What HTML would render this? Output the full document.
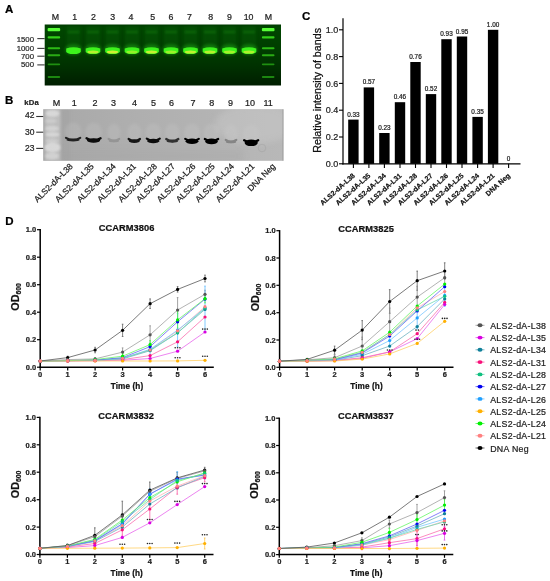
<!DOCTYPE html>
<html><head><meta charset="utf-8"><title>Figure</title>
<style>
html,body{margin:0;padding:0;background:#fff;width:550px;height:581px;overflow:hidden}
svg{display:block;filter:blur(0.3px)}
text{font-family:"Liberation Sans", Arial, sans-serif}
</style></head>
<body><svg width="550" height="581" viewBox="0 0 550 581">
<rect width="550" height="581" fill="#fff"/>
<defs>
<filter id="bl1" x="-50%" y="-50%" width="200%" height="200%"><feGaussianBlur stdDeviation="0.9"/></filter>
<filter id="bl2" x="-50%" y="-50%" width="200%" height="200%"><feGaussianBlur stdDeviation="1.6"/></filter>
<filter id="bl3" x="-50%" y="-50%" width="200%" height="200%"><feGaussianBlur stdDeviation="3"/></filter>
<filter id="bl07" x="-50%" y="-50%" width="200%" height="200%"><feGaussianBlur stdDeviation="0.75"/></filter>
<filter id="bl05" x="-50%" y="-50%" width="200%" height="200%"><feGaussianBlur stdDeviation="0.6"/></filter>
<linearGradient id="gA" x1="0" y1="0" x2="0" y2="1"><stop offset="0" stop-color="#003a00"/><stop offset="0.05" stop-color="#004600"/><stop offset="0.45" stop-color="#003c00"/><stop offset="0.7" stop-color="#003000"/><stop offset="1" stop-color="#001e00"/></linearGradient>
<linearGradient id="gB" x1="0" y1="0" x2="1" y2="0"><stop offset="0" stop-color="#a8a8a8"/><stop offset="0.4" stop-color="#afafaf"/><stop offset="1" stop-color="#b8b8b8"/></linearGradient>
<clipPath id="cA"><rect x="44.7" y="24.5" width="236.3" height="61.0"/></clipPath>
</defs>
<rect x="44.7" y="24.5" width="236.3" height="61.0" fill="url(#gA)"/>
<g clip-path="url(#cA)">
<rect x="66.5" y="26" width="14" height="22" fill="#0a6a0a" opacity="0.25" filter="url(#bl2)"/>
<rect x="67.5" y="30.5" width="12" height="3" fill="#1a8a10" opacity="0.35" filter="url(#bl1)"/>
<rect x="86.0" y="26" width="14" height="22" fill="#0a6a0a" opacity="0.25" filter="url(#bl2)"/>
<rect x="87.0" y="30.5" width="12" height="3" fill="#1a8a10" opacity="0.35" filter="url(#bl1)"/>
<rect x="105.5" y="26" width="14" height="22" fill="#0a6a0a" opacity="0.25" filter="url(#bl2)"/>
<rect x="106.5" y="30.5" width="12" height="3" fill="#1a8a10" opacity="0.35" filter="url(#bl1)"/>
<rect x="125.0" y="26" width="14" height="22" fill="#0a6a0a" opacity="0.25" filter="url(#bl2)"/>
<rect x="126.0" y="30.5" width="12" height="3" fill="#1a8a10" opacity="0.35" filter="url(#bl1)"/>
<rect x="144.5" y="26" width="14" height="22" fill="#0a6a0a" opacity="0.25" filter="url(#bl2)"/>
<rect x="145.5" y="30.5" width="12" height="3" fill="#1a8a10" opacity="0.35" filter="url(#bl1)"/>
<rect x="164.0" y="26" width="14" height="22" fill="#0a6a0a" opacity="0.25" filter="url(#bl2)"/>
<rect x="165.0" y="30.5" width="12" height="3" fill="#1a8a10" opacity="0.35" filter="url(#bl1)"/>
<rect x="183.5" y="26" width="14" height="22" fill="#0a6a0a" opacity="0.25" filter="url(#bl2)"/>
<rect x="184.5" y="30.5" width="12" height="3" fill="#1a8a10" opacity="0.35" filter="url(#bl1)"/>
<rect x="203.0" y="26" width="14" height="22" fill="#0a6a0a" opacity="0.25" filter="url(#bl2)"/>
<rect x="204.0" y="30.5" width="12" height="3" fill="#1a8a10" opacity="0.35" filter="url(#bl1)"/>
<rect x="222.5" y="26" width="14" height="22" fill="#0a6a0a" opacity="0.25" filter="url(#bl2)"/>
<rect x="223.5" y="30.5" width="12" height="3" fill="#1a8a10" opacity="0.35" filter="url(#bl1)"/>
<rect x="242.0" y="26" width="14" height="22" fill="#0a6a0a" opacity="0.25" filter="url(#bl2)"/>
<rect x="243.0" y="30.5" width="12" height="3" fill="#1a8a10" opacity="0.35" filter="url(#bl1)"/>
<rect x="47.6" y="27.9" width="12.6" height="3.4" rx="1" fill="#58ff38" opacity="1.0" filter="url(#bl05)"/>
<rect x="47.6" y="36.3" width="12.6" height="2.2" rx="1" fill="#36d81c" opacity="0.95" filter="url(#bl05)"/>
<rect x="47.6" y="47.3" width="12.6" height="2.0" rx="1" fill="#30c818" opacity="0.9" filter="url(#bl05)"/>
<rect x="47.6" y="54.3" width="12.6" height="2.0" rx="1" fill="#30c018" opacity="0.85" filter="url(#bl05)"/>
<rect x="47.6" y="63.4" width="12.6" height="1.8" rx="1" fill="#28a814" opacity="0.8" filter="url(#bl05)"/>
<rect x="47.6" y="76.1" width="12.6" height="1.8" rx="1" fill="#28a814" opacity="0.75" filter="url(#bl05)"/>
<rect x="261.9" y="27.9" width="12.6" height="3.4" rx="1" fill="#58ff38" opacity="1.0" filter="url(#bl05)"/>
<rect x="261.9" y="36.3" width="12.6" height="2.2" rx="1" fill="#36d81c" opacity="0.95" filter="url(#bl05)"/>
<rect x="261.9" y="47.3" width="12.6" height="2.0" rx="1" fill="#30c818" opacity="0.9" filter="url(#bl05)"/>
<rect x="261.9" y="54.3" width="12.6" height="2.0" rx="1" fill="#30c018" opacity="0.85" filter="url(#bl05)"/>
<rect x="261.9" y="63.4" width="12.6" height="1.8" rx="1" fill="#28a814" opacity="0.8" filter="url(#bl05)"/>
<rect x="261.9" y="76.1" width="12.6" height="1.8" rx="1" fill="#28a814" opacity="0.75" filter="url(#bl05)"/>
<ellipse cx="73.5" cy="49.5" rx="8.5" ry="5.5" fill="#22b012" opacity="0.45" filter="url(#bl2)"/>
<path d="M66.2,48.6 Q73.5,46.0 80.8,48.6 L80.8,51.2 Q80.6,54.0 73.5,54.0 Q66.4,54.0 66.2,51.2 Z" fill="#3cf41c" filter="url(#bl07)"/>
<ellipse cx="93.0" cy="49.5" rx="8.5" ry="5.5" fill="#22b012" opacity="0.45" filter="url(#bl2)"/>
<path d="M85.7,48.6 Q93.0,46.0 100.3,48.6 L100.3,51.2 Q100.1,54.0 93.0,54.0 Q85.9,54.0 85.7,51.2 Z" fill="#3cf41c" filter="url(#bl07)"/>
<ellipse cx="93.0" cy="51.9" rx="5.6" ry="1.5" fill="#e8f038" opacity="0.7" filter="url(#bl07)"/>
<ellipse cx="112.5" cy="49.5" rx="8.5" ry="5.5" fill="#22b012" opacity="0.45" filter="url(#bl2)"/>
<path d="M105.2,48.6 Q112.5,46.0 119.8,48.6 L119.8,51.2 Q119.6,54.0 112.5,54.0 Q105.4,54.0 105.2,51.2 Z" fill="#3cf41c" filter="url(#bl07)"/>
<ellipse cx="112.5" cy="51.9" rx="5.6" ry="1.5" fill="#e8f038" opacity="0.85" filter="url(#bl07)"/>
<ellipse cx="132.0" cy="49.5" rx="8.5" ry="5.5" fill="#22b012" opacity="0.45" filter="url(#bl2)"/>
<path d="M124.7,48.6 Q132.0,46.0 139.3,48.6 L139.3,51.2 Q139.1,54.0 132.0,54.0 Q124.9,54.0 124.7,51.2 Z" fill="#3cf41c" filter="url(#bl07)"/>
<ellipse cx="132.0" cy="51.9" rx="5.6" ry="1.5" fill="#e8f038" opacity="0.5" filter="url(#bl07)"/>
<ellipse cx="151.5" cy="49.5" rx="8.5" ry="5.5" fill="#22b012" opacity="0.45" filter="url(#bl2)"/>
<path d="M144.2,48.6 Q151.5,46.0 158.8,48.6 L158.8,51.2 Q158.6,54.0 151.5,54.0 Q144.4,54.0 144.2,51.2 Z" fill="#3cf41c" filter="url(#bl07)"/>
<ellipse cx="151.5" cy="51.9" rx="5.6" ry="1.5" fill="#e8f038" opacity="0.8" filter="url(#bl07)"/>
<ellipse cx="171.0" cy="49.5" rx="8.5" ry="5.5" fill="#22b012" opacity="0.45" filter="url(#bl2)"/>
<path d="M163.7,48.6 Q171.0,46.0 178.3,48.6 L178.3,51.2 Q178.1,54.0 171.0,54.0 Q163.9,54.0 163.7,51.2 Z" fill="#3cf41c" filter="url(#bl07)"/>
<ellipse cx="171.0" cy="51.9" rx="5.6" ry="1.5" fill="#e8f038" opacity="0.55" filter="url(#bl07)"/>
<ellipse cx="190.5" cy="49.5" rx="8.5" ry="5.5" fill="#22b012" opacity="0.45" filter="url(#bl2)"/>
<path d="M183.2,48.6 Q190.5,46.0 197.8,48.6 L197.8,51.2 Q197.6,54.0 190.5,54.0 Q183.4,54.0 183.2,51.2 Z" fill="#3cf41c" filter="url(#bl07)"/>
<ellipse cx="190.5" cy="51.9" rx="5.6" ry="1.5" fill="#e8f038" opacity="0.75" filter="url(#bl07)"/>
<ellipse cx="210.0" cy="49.5" rx="8.5" ry="5.5" fill="#22b012" opacity="0.45" filter="url(#bl2)"/>
<path d="M202.7,48.6 Q210.0,46.0 217.3,48.6 L217.3,51.2 Q217.1,54.0 210.0,54.0 Q202.9,54.0 202.7,51.2 Z" fill="#3cf41c" filter="url(#bl07)"/>
<ellipse cx="210.0" cy="51.9" rx="5.6" ry="1.5" fill="#e8f038" opacity="0.7" filter="url(#bl07)"/>
<ellipse cx="229.5" cy="49.5" rx="8.5" ry="5.5" fill="#22b012" opacity="0.45" filter="url(#bl2)"/>
<path d="M222.2,48.6 Q229.5,46.0 236.8,48.6 L236.8,51.2 Q236.6,54.0 229.5,54.0 Q222.4,54.0 222.2,51.2 Z" fill="#3cf41c" filter="url(#bl07)"/>
<ellipse cx="229.5" cy="51.9" rx="5.6" ry="1.5" fill="#e8f038" opacity="0.6" filter="url(#bl07)"/>
<ellipse cx="249.0" cy="49.5" rx="8.5" ry="5.5" fill="#22b012" opacity="0.45" filter="url(#bl2)"/>
<path d="M241.7,48.6 Q249.0,46.0 256.3,48.6 L256.3,51.2 Q256.1,54.0 249.0,54.0 Q241.9,54.0 241.7,51.2 Z" fill="#3cf41c" filter="url(#bl07)"/>
<ellipse cx="249.0" cy="51.9" rx="5.6" ry="1.5" fill="#e8f038" opacity="0.65" filter="url(#bl07)"/>
</g>
<text x="5.00" y="12.60" font-size="11.5" font-weight="bold" text-anchor="start" fill="#000" stroke="#000" stroke-width="0.22" >A</text>
<text x="55.30" y="20.00" font-size="8.8" text-anchor="middle" fill="#222" stroke="#222" stroke-width="0.22" >M</text>
<text x="74.60" y="20.00" font-size="8.8" text-anchor="middle" fill="#222" stroke="#222" stroke-width="0.22" >1</text>
<text x="93.40" y="20.00" font-size="8.8" text-anchor="middle" fill="#222" stroke="#222" stroke-width="0.22" >2</text>
<text x="112.60" y="20.00" font-size="8.8" text-anchor="middle" fill="#222" stroke="#222" stroke-width="0.22" >3</text>
<text x="131.00" y="20.00" font-size="8.8" text-anchor="middle" fill="#222" stroke="#222" stroke-width="0.22" >4</text>
<text x="152.60" y="20.00" font-size="8.8" text-anchor="middle" fill="#222" stroke="#222" stroke-width="0.22" >5</text>
<text x="171.00" y="20.00" font-size="8.8" text-anchor="middle" fill="#222" stroke="#222" stroke-width="0.22" >6</text>
<text x="189.50" y="20.00" font-size="8.8" text-anchor="middle" fill="#222" stroke="#222" stroke-width="0.22" >7</text>
<text x="210.60" y="20.00" font-size="8.8" text-anchor="middle" fill="#222" stroke="#222" stroke-width="0.22" >8</text>
<text x="229.50" y="20.00" font-size="8.8" text-anchor="middle" fill="#222" stroke="#222" stroke-width="0.22" >9</text>
<text x="248.60" y="20.00" font-size="8.8" text-anchor="middle" fill="#222" stroke="#222" stroke-width="0.22" >10</text>
<text x="268.40" y="20.00" font-size="8.8" text-anchor="middle" fill="#222" stroke="#222" stroke-width="0.22" >M</text>
<text x="34.00" y="41.60" font-size="7.8" text-anchor="end" fill="#2a2a2a" stroke="#2a2a2a" stroke-width="0.22" >1500</text>
<line x1="37.3" y1="38.6" x2="44.7" y2="38.6" stroke="#3a3a3a" stroke-width="1.1"/>
<text x="34.00" y="51.40" font-size="7.8" text-anchor="end" fill="#2a2a2a" stroke="#2a2a2a" stroke-width="0.22" >1000</text>
<line x1="37.3" y1="48.4" x2="44.7" y2="48.4" stroke="#3a3a3a" stroke-width="1.1"/>
<text x="34.00" y="58.70" font-size="7.8" text-anchor="end" fill="#2a2a2a" stroke="#2a2a2a" stroke-width="0.22" >700</text>
<line x1="37.3" y1="56.2" x2="44.7" y2="56.2" stroke="#3a3a3a" stroke-width="1.1"/>
<text x="34.00" y="67.30" font-size="7.8" text-anchor="end" fill="#2a2a2a" stroke="#2a2a2a" stroke-width="0.22" >500</text>
<line x1="37.3" y1="64.9" x2="44.7" y2="64.9" stroke="#3a3a3a" stroke-width="1.1"/>
<rect x="43.2" y="109.2" width="240.4" height="51.6" fill="url(#gB)"/>
<clipPath id="cB"><rect x="43.2" y="109.2" width="240.4" height="51.6"/></clipPath>
<g clip-path="url(#cB)">
<ellipse cx="255" cy="124" rx="40" ry="20" fill="#cccccc" opacity="0.4" filter="url(#bl3)"/>
<rect x="43" y="150" width="200" height="12" fill="#a0a0a0" opacity="0.25" filter="url(#bl3)"/>
<rect x="62" y="109" width="8" height="52" fill="#9c9c9c" opacity="0.25" filter="url(#bl2)"/>
<rect x="45" y="109" width="15.5" height="52" fill="#d2d2d2" opacity="0.5" filter="url(#bl1)"/>
<ellipse cx="52.5" cy="113.5" rx="7" ry="3.5" fill="#e2e2e2" opacity="0.72" filter="url(#bl1)"/>
<ellipse cx="51" cy="121" rx="6" ry="2.5" fill="#e2e2e2" opacity="0.40" filter="url(#bl1)"/>
<ellipse cx="52" cy="128.5" rx="7" ry="3.0" fill="#e2e2e2" opacity="0.56" filter="url(#bl1)"/>
<ellipse cx="52.5" cy="134.5" rx="7" ry="2.5" fill="#e2e2e2" opacity="0.68" filter="url(#bl1)"/>
<ellipse cx="52" cy="141" rx="6.5" ry="2.5" fill="#e2e2e2" opacity="0.40" filter="url(#bl1)"/>
<ellipse cx="52.5" cy="147.5" rx="8" ry="5" fill="#e2e2e2" opacity="0.72" filter="url(#bl1)"/>
<ellipse cx="52" cy="156" rx="7" ry="3.5" fill="#e2e2e2" opacity="0.56" filter="url(#bl1)"/>
<ellipse cx="73.1" cy="131.5" rx="8.3" ry="9" fill="#d0d0d0" opacity="0.2" filter="url(#bl2)"/>
<g filter="url(#bl07)" fill="#222222" stroke="#222222">
<path d="M66.0,137.9 Q73.1,142.1 80.2,137.9" fill="none" stroke-width="2.2" stroke-linecap="round"/>
<ellipse cx="73.1" cy="139.9" rx="6.6" ry="1.5" stroke="none"/>
</g>
<ellipse cx="93.6" cy="131.8" rx="8.2" ry="9" fill="#d0d0d0" opacity="0.2" filter="url(#bl2)"/>
<g filter="url(#bl07)" fill="#080808" stroke="#080808">
<path d="M86.5,138.2 Q93.6,142.4 100.6,138.2" fill="none" stroke-width="2.2" stroke-linecap="round"/>
<ellipse cx="93.6" cy="140.5" rx="6.6" ry="2.2" stroke="none"/>
</g>
<ellipse cx="113.9" cy="132.5" rx="6.5" ry="9" fill="#d0d0d0" opacity="0.2" filter="url(#bl2)"/>
<g filter="url(#bl07)" fill="#959595" stroke="#959595">
<path d="M108.6,138.9 Q113.9,143.1 119.2,138.9" fill="none" stroke-width="2.2" stroke-linecap="round"/>
<ellipse cx="113.9" cy="140.9" rx="5.2" ry="1.3" stroke="none"/>
</g>
<ellipse cx="134.3" cy="132.6" rx="6.9" ry="9" fill="#d0d0d0" opacity="0.2" filter="url(#bl2)"/>
<g filter="url(#bl07)" fill="#151515" stroke="#151515">
<path d="M128.6,139.0 Q134.3,143.2 140.0,139.0" fill="none" stroke-width="2.2" stroke-linecap="round"/>
<ellipse cx="134.3" cy="141.1" rx="5.5" ry="1.8" stroke="none"/>
</g>
<ellipse cx="153.3" cy="132.3" rx="7.7" ry="9" fill="#d0d0d0" opacity="0.2" filter="url(#bl2)"/>
<g filter="url(#bl07)" fill="#0a0a0a" stroke="#0a0a0a">
<path d="M146.8,138.7 Q153.3,142.9 159.8,138.7" fill="none" stroke-width="2.2" stroke-linecap="round"/>
<ellipse cx="153.3" cy="141.0" rx="6.2" ry="2.2" stroke="none"/>
</g>
<ellipse cx="172.3" cy="132.6" rx="7.3" ry="9" fill="#d0d0d0" opacity="0.2" filter="url(#bl2)"/>
<g filter="url(#bl07)" fill="#303030" stroke="#303030">
<path d="M166.2,139.0 Q172.3,143.2 178.4,139.0" fill="none" stroke-width="2.2" stroke-linecap="round"/>
<ellipse cx="172.3" cy="141.1" rx="5.8" ry="1.7" stroke="none"/>
</g>
<ellipse cx="192.0" cy="132.5" rx="8.0" ry="9" fill="#d0d0d0" opacity="0.2" filter="url(#bl2)"/>
<g filter="url(#bl07)" fill="#050505" stroke="#050505">
<path d="M185.2,138.9 Q192.0,143.1 198.8,138.9" fill="none" stroke-width="2.2" stroke-linecap="round"/>
<ellipse cx="192.0" cy="141.3" rx="6.4" ry="2.7" stroke="none"/>
</g>
<ellipse cx="211.5" cy="132.6" rx="7.9" ry="9" fill="#d0d0d0" opacity="0.2" filter="url(#bl2)"/>
<g filter="url(#bl07)" fill="#050505" stroke="#050505">
<path d="M204.8,139.0 Q211.5,143.2 218.2,139.0" fill="none" stroke-width="2.2" stroke-linecap="round"/>
<ellipse cx="211.5" cy="141.4" rx="6.3" ry="2.8" stroke="none"/>
</g>
<ellipse cx="231.0" cy="133.5" rx="6.5" ry="9" fill="#d0d0d0" opacity="0.2" filter="url(#bl2)"/>
<g filter="url(#bl07)" fill="#858585" stroke="#858585">
<path d="M225.7,139.9 Q231.0,144.1 236.3,139.9" fill="none" stroke-width="2.2" stroke-linecap="round"/>
<ellipse cx="231.0" cy="141.9" rx="5.2" ry="1.4" stroke="none"/>
</g>
<ellipse cx="251.2" cy="133.8" rx="8.2" ry="9" fill="#d0d0d0" opacity="0.2" filter="url(#bl2)"/>
<g filter="url(#bl07)" fill="#000000" stroke="#000000">
<path d="M244.1,140.2 Q251.2,144.4 258.2,140.2" fill="none" stroke-width="2.2" stroke-linecap="round"/>
<ellipse cx="251.2" cy="142.8" rx="6.6" ry="3.3" stroke="none"/>
</g>
<circle cx="262" cy="148" r="3.8" fill="none" stroke="#9a9a9a" stroke-width="0.8" opacity="0.5" filter="url(#bl05)"/>
<line x1="283" y1="109" x2="283" y2="161" stroke="#8a8a8a" stroke-width="1.2" opacity="0.5"/>
</g>
<text x="5.00" y="103.80" font-size="11.5" font-weight="bold" text-anchor="start" fill="#000" stroke="#000" stroke-width="0.22" >B</text>
<text x="24.20" y="104.60" font-size="7.7" font-weight="bold" text-anchor="start" fill="#222" stroke="#222" stroke-width="0.22" letter-spacing="0.2">kDa</text>
<text x="56.40" y="106.00" font-size="9.0" text-anchor="middle" fill="#222" stroke="#222" stroke-width="0.22" >M</text>
<text x="74.20" y="106.00" font-size="9.0" text-anchor="middle" fill="#222" stroke="#222" stroke-width="0.22" >1</text>
<text x="95.00" y="106.00" font-size="9.0" text-anchor="middle" fill="#222" stroke="#222" stroke-width="0.22" >2</text>
<text x="113.60" y="106.00" font-size="9.0" text-anchor="middle" fill="#222" stroke="#222" stroke-width="0.22" >3</text>
<text x="134.40" y="106.00" font-size="9.0" text-anchor="middle" fill="#222" stroke="#222" stroke-width="0.22" >4</text>
<text x="153.60" y="106.00" font-size="9.0" text-anchor="middle" fill="#222" stroke="#222" stroke-width="0.22" >5</text>
<text x="171.60" y="106.00" font-size="9.0" text-anchor="middle" fill="#222" stroke="#222" stroke-width="0.22" >6</text>
<text x="193.00" y="106.00" font-size="9.0" text-anchor="middle" fill="#222" stroke="#222" stroke-width="0.22" >7</text>
<text x="211.80" y="106.00" font-size="9.0" text-anchor="middle" fill="#222" stroke="#222" stroke-width="0.22" >8</text>
<text x="230.40" y="106.00" font-size="9.0" text-anchor="middle" fill="#222" stroke="#222" stroke-width="0.22" >9</text>
<text x="250.00" y="106.00" font-size="9.0" text-anchor="middle" fill="#222" stroke="#222" stroke-width="0.22" >10</text>
<text x="268.20" y="106.00" font-size="9.0" text-anchor="middle" fill="#222" stroke="#222" stroke-width="0.22" >11</text>
<text x="34.40" y="118.00" font-size="8.5" text-anchor="end" fill="#222" stroke="#222" stroke-width="0.22" >42</text>
<line x1="36.2" y1="116.5" x2="43.2" y2="116.5" stroke="#333" stroke-width="1.1"/>
<text x="34.40" y="135.40" font-size="8.5" text-anchor="end" fill="#222" stroke="#222" stroke-width="0.22" >30</text>
<line x1="36.2" y1="132.2" x2="43.2" y2="132.2" stroke="#333" stroke-width="1.1"/>
<text x="34.40" y="151.10" font-size="8.5" text-anchor="end" fill="#222" stroke="#222" stroke-width="0.22" >23</text>
<line x1="36.2" y1="148.4" x2="43.2" y2="148.4" stroke="#333" stroke-width="1.1"/>
<text x="73.3" y="166.9" font-size="8.45" text-anchor="end" fill="#1a1a1a" stroke="#1a1a1a" stroke-width="0.22" transform="rotate(-45 73.3 166.9)">ALS2-dA-L38</text>
<text x="94.4" y="166.9" font-size="8.45" text-anchor="end" fill="#1a1a1a" stroke="#1a1a1a" stroke-width="0.22" transform="rotate(-45 94.4 166.9)">ALS2-dA-L35</text>
<text x="116.3" y="166.9" font-size="8.45" text-anchor="end" fill="#1a1a1a" stroke="#1a1a1a" stroke-width="0.22" transform="rotate(-45 116.3 166.9)">ALS2-dA-L34</text>
<text x="136.7" y="166.9" font-size="8.45" text-anchor="end" fill="#1a1a1a" stroke="#1a1a1a" stroke-width="0.22" transform="rotate(-45 136.7 166.9)">ALS2-dA-L31</text>
<text x="157.5" y="166.9" font-size="8.45" text-anchor="end" fill="#1a1a1a" stroke="#1a1a1a" stroke-width="0.22" transform="rotate(-45 157.5 166.9)">ALS2-dA-L28</text>
<text x="175.5" y="166.9" font-size="8.45" text-anchor="end" fill="#1a1a1a" stroke="#1a1a1a" stroke-width="0.22" transform="rotate(-45 175.5 166.9)">ALS2-dA-L27</text>
<text x="196.2" y="166.9" font-size="8.45" text-anchor="end" fill="#1a1a1a" stroke="#1a1a1a" stroke-width="0.22" transform="rotate(-45 196.2 166.9)">ALS2-dA-L26</text>
<text x="215.3" y="166.9" font-size="8.45" text-anchor="end" fill="#1a1a1a" stroke="#1a1a1a" stroke-width="0.22" transform="rotate(-45 215.3 166.9)">ALS2-dA-L25</text>
<text x="234.6" y="166.9" font-size="8.45" text-anchor="end" fill="#1a1a1a" stroke="#1a1a1a" stroke-width="0.22" transform="rotate(-45 234.6 166.9)">ALS2-dA-L24</text>
<text x="255.0" y="166.9" font-size="8.45" text-anchor="end" fill="#1a1a1a" stroke="#1a1a1a" stroke-width="0.22" transform="rotate(-45 255.0 166.9)">ALS2-dA-L21</text>
<text x="275.8" y="166.9" font-size="8.45" text-anchor="end" fill="#1a1a1a" stroke="#1a1a1a" stroke-width="0.22" transform="rotate(-45 275.8 166.9)">DNA Neg</text>
<text x="302.00" y="20.20" font-size="11.5" font-weight="bold" text-anchor="start" fill="#000" stroke="#000" stroke-width="0.22" >C</text>
<line x1="343.0" y1="18.3" x2="343.0" y2="164.4" stroke="#000" stroke-width="1.2"/>
<line x1="342.4" y1="163.8" x2="520.5" y2="163.8" stroke="#000" stroke-width="1.2"/>
<line x1="339.0" y1="163.8" x2="343.0" y2="163.8" stroke="#000" stroke-width="1.1"/>
<text x="338.20" y="167.00" font-size="9" text-anchor="end" fill="#222" stroke="#222" stroke-width="0.22" >0.0</text>
<line x1="339.0" y1="137.0" x2="343.0" y2="137.0" stroke="#000" stroke-width="1.1"/>
<text x="338.20" y="140.20" font-size="9" text-anchor="end" fill="#222" stroke="#222" stroke-width="0.22" >0.2</text>
<line x1="339.0" y1="110.2" x2="343.0" y2="110.2" stroke="#000" stroke-width="1.1"/>
<text x="338.20" y="113.40" font-size="9" text-anchor="end" fill="#222" stroke="#222" stroke-width="0.22" >0.4</text>
<line x1="339.0" y1="83.4" x2="343.0" y2="83.4" stroke="#000" stroke-width="1.1"/>
<text x="338.20" y="86.60" font-size="9" text-anchor="end" fill="#222" stroke="#222" stroke-width="0.22" >0.6</text>
<line x1="339.0" y1="56.6" x2="343.0" y2="56.6" stroke="#000" stroke-width="1.1"/>
<text x="338.20" y="59.80" font-size="9" text-anchor="end" fill="#222" stroke="#222" stroke-width="0.22" >0.8</text>
<line x1="339.0" y1="29.8" x2="343.0" y2="29.8" stroke="#000" stroke-width="1.1"/>
<text x="338.20" y="33.00" font-size="9" text-anchor="end" fill="#222" stroke="#222" stroke-width="0.22" >1.0</text>
<text x="0" y="0" font-size="10.7" text-anchor="middle" fill="#111" stroke="#111" stroke-width="0.25" transform="translate(320.8 90.4) rotate(-90)">Relative intensity of bands</text>
<rect x="348.2" y="119.6" width="10.4" height="44.2" fill="#000"/>
<line x1="353.4" y1="163.8" x2="353.4" y2="168.0" stroke="#000" stroke-width="1.1"/>
<text x="353.40" y="116.58" font-size="6.4" text-anchor="middle" fill="#222" stroke="#222" stroke-width="0.22" >0.33</text>
<rect x="363.7" y="87.4" width="10.4" height="76.4" fill="#000"/>
<line x1="368.9" y1="163.8" x2="368.9" y2="168.0" stroke="#000" stroke-width="1.1"/>
<text x="368.92" y="84.42" font-size="6.4" text-anchor="middle" fill="#222" stroke="#222" stroke-width="0.22" >0.57</text>
<rect x="379.2" y="133.0" width="10.4" height="30.8" fill="#000"/>
<line x1="384.4" y1="163.8" x2="384.4" y2="168.0" stroke="#000" stroke-width="1.1"/>
<text x="384.44" y="129.98" font-size="6.4" text-anchor="middle" fill="#222" stroke="#222" stroke-width="0.22" >0.23</text>
<rect x="394.8" y="102.2" width="10.4" height="61.6" fill="#000"/>
<line x1="400.0" y1="163.8" x2="400.0" y2="168.0" stroke="#000" stroke-width="1.1"/>
<text x="399.96" y="99.16" font-size="6.4" text-anchor="middle" fill="#222" stroke="#222" stroke-width="0.22" >0.46</text>
<rect x="410.3" y="62.0" width="10.4" height="101.8" fill="#000"/>
<line x1="415.5" y1="163.8" x2="415.5" y2="168.0" stroke="#000" stroke-width="1.1"/>
<text x="415.48" y="58.96" font-size="6.4" text-anchor="middle" fill="#222" stroke="#222" stroke-width="0.22" >0.76</text>
<rect x="425.8" y="94.1" width="10.4" height="69.7" fill="#000"/>
<line x1="431.0" y1="163.8" x2="431.0" y2="168.0" stroke="#000" stroke-width="1.1"/>
<text x="431.00" y="91.12" font-size="6.4" text-anchor="middle" fill="#222" stroke="#222" stroke-width="0.22" >0.52</text>
<rect x="441.3" y="39.2" width="10.4" height="124.6" fill="#000"/>
<line x1="446.5" y1="163.8" x2="446.5" y2="168.0" stroke="#000" stroke-width="1.1"/>
<text x="446.52" y="36.18" font-size="6.4" text-anchor="middle" fill="#222" stroke="#222" stroke-width="0.22" >0.93</text>
<rect x="456.8" y="36.5" width="10.4" height="127.3" fill="#000"/>
<line x1="462.0" y1="163.8" x2="462.0" y2="168.0" stroke="#000" stroke-width="1.1"/>
<text x="462.04" y="33.50" font-size="6.4" text-anchor="middle" fill="#222" stroke="#222" stroke-width="0.22" >0.95</text>
<rect x="472.4" y="116.9" width="10.4" height="46.9" fill="#000"/>
<line x1="477.6" y1="163.8" x2="477.6" y2="168.0" stroke="#000" stroke-width="1.1"/>
<text x="477.56" y="113.90" font-size="6.4" text-anchor="middle" fill="#222" stroke="#222" stroke-width="0.22" >0.35</text>
<rect x="487.9" y="29.8" width="10.4" height="134.0" fill="#000"/>
<line x1="493.1" y1="163.8" x2="493.1" y2="168.0" stroke="#000" stroke-width="1.1"/>
<text x="493.08" y="26.80" font-size="6.4" text-anchor="middle" fill="#222" stroke="#222" stroke-width="0.22" >1.00</text>
<line x1="508.6" y1="163.8" x2="508.6" y2="168.0" stroke="#000" stroke-width="1.1"/>
<text x="508.60" y="160.80" font-size="6.4" text-anchor="middle" fill="#222" stroke="#222" stroke-width="0.22" >0</text>
<text x="355.5" y="176.3" font-size="7.0" font-weight="bold" text-anchor="end" fill="#111" stroke="#111" stroke-width="0.2" transform="rotate(-42 355.5 176.3)">ALS2-dA-L38</text>
<text x="371.0" y="176.3" font-size="7.0" font-weight="bold" text-anchor="end" fill="#111" stroke="#111" stroke-width="0.2" transform="rotate(-42 371.0 176.3)">ALS2-dA-L35</text>
<text x="386.5" y="176.3" font-size="7.0" font-weight="bold" text-anchor="end" fill="#111" stroke="#111" stroke-width="0.2" transform="rotate(-42 386.5 176.3)">ALS2-dA-L34</text>
<text x="402.1" y="176.3" font-size="7.0" font-weight="bold" text-anchor="end" fill="#111" stroke="#111" stroke-width="0.2" transform="rotate(-42 402.1 176.3)">ALS2-dA-L31</text>
<text x="417.6" y="176.3" font-size="7.0" font-weight="bold" text-anchor="end" fill="#111" stroke="#111" stroke-width="0.2" transform="rotate(-42 417.6 176.3)">ALS2-dA-L28</text>
<text x="433.1" y="176.3" font-size="7.0" font-weight="bold" text-anchor="end" fill="#111" stroke="#111" stroke-width="0.2" transform="rotate(-42 433.1 176.3)">ALS2-dA-L27</text>
<text x="448.6" y="176.3" font-size="7.0" font-weight="bold" text-anchor="end" fill="#111" stroke="#111" stroke-width="0.2" transform="rotate(-42 448.6 176.3)">ALS2-dA-L26</text>
<text x="464.1" y="176.3" font-size="7.0" font-weight="bold" text-anchor="end" fill="#111" stroke="#111" stroke-width="0.2" transform="rotate(-42 464.1 176.3)">ALS2-dA-L25</text>
<text x="479.7" y="176.3" font-size="7.0" font-weight="bold" text-anchor="end" fill="#111" stroke="#111" stroke-width="0.2" transform="rotate(-42 479.7 176.3)">ALS2-dA-L24</text>
<text x="495.2" y="176.3" font-size="7.0" font-weight="bold" text-anchor="end" fill="#111" stroke="#111" stroke-width="0.2" transform="rotate(-42 495.2 176.3)">ALS2-dA-L21</text>
<text x="510.7" y="176.3" font-size="7.0" font-weight="bold" text-anchor="end" fill="#111" stroke="#111" stroke-width="0.2" transform="rotate(-42 510.7 176.3)">DNA Neg</text>
<line x1="40.2" y1="229.1" x2="40.2" y2="367.9" stroke="#000" stroke-width="1.5"/>
<line x1="39.5" y1="367.2" x2="213.8" y2="367.2" stroke="#000" stroke-width="1.5"/>
<line x1="37.0" y1="367.2" x2="40.2" y2="367.2" stroke="#000" stroke-width="1.2"/>
<text x="36.30" y="369.90" font-size="7.5" font-weight="bold" text-anchor="end" fill="#222" stroke="#222" stroke-width="0.22" >0.0</text>
<line x1="37.0" y1="339.7" x2="40.2" y2="339.7" stroke="#000" stroke-width="1.2"/>
<text x="36.30" y="342.40" font-size="7.5" font-weight="bold" text-anchor="end" fill="#222" stroke="#222" stroke-width="0.22" >0.2</text>
<line x1="37.0" y1="312.2" x2="40.2" y2="312.2" stroke="#000" stroke-width="1.2"/>
<text x="36.30" y="314.90" font-size="7.5" font-weight="bold" text-anchor="end" fill="#222" stroke="#222" stroke-width="0.22" >0.4</text>
<line x1="37.0" y1="284.7" x2="40.2" y2="284.7" stroke="#000" stroke-width="1.2"/>
<text x="36.30" y="287.40" font-size="7.5" font-weight="bold" text-anchor="end" fill="#222" stroke="#222" stroke-width="0.22" >0.6</text>
<line x1="37.0" y1="257.2" x2="40.2" y2="257.2" stroke="#000" stroke-width="1.2"/>
<text x="36.30" y="259.90" font-size="7.5" font-weight="bold" text-anchor="end" fill="#222" stroke="#222" stroke-width="0.22" >0.8</text>
<line x1="37.0" y1="229.7" x2="40.2" y2="229.7" stroke="#000" stroke-width="1.2"/>
<text x="36.30" y="232.40" font-size="7.5" font-weight="bold" text-anchor="end" fill="#222" stroke="#222" stroke-width="0.22" >1.0</text>
<line x1="40.2" y1="367.2" x2="40.2" y2="370.4" stroke="#000" stroke-width="1.2"/>
<text x="40.20" y="376.90" font-size="7.5" font-weight="bold" text-anchor="middle" fill="#222" stroke="#222" stroke-width="0.22" >0</text>
<line x1="67.7" y1="367.2" x2="67.7" y2="370.4" stroke="#000" stroke-width="1.2"/>
<text x="67.67" y="376.90" font-size="7.5" font-weight="bold" text-anchor="middle" fill="#222" stroke="#222" stroke-width="0.22" >1</text>
<line x1="95.1" y1="367.2" x2="95.1" y2="370.4" stroke="#000" stroke-width="1.2"/>
<text x="95.14" y="376.90" font-size="7.5" font-weight="bold" text-anchor="middle" fill="#222" stroke="#222" stroke-width="0.22" >2</text>
<line x1="122.6" y1="367.2" x2="122.6" y2="370.4" stroke="#000" stroke-width="1.2"/>
<text x="122.61" y="376.90" font-size="7.5" font-weight="bold" text-anchor="middle" fill="#222" stroke="#222" stroke-width="0.22" >3</text>
<line x1="150.1" y1="367.2" x2="150.1" y2="370.4" stroke="#000" stroke-width="1.2"/>
<text x="150.08" y="376.90" font-size="7.5" font-weight="bold" text-anchor="middle" fill="#222" stroke="#222" stroke-width="0.22" >4</text>
<line x1="177.6" y1="367.2" x2="177.6" y2="370.4" stroke="#000" stroke-width="1.2"/>
<text x="177.55" y="376.90" font-size="7.5" font-weight="bold" text-anchor="middle" fill="#222" stroke="#222" stroke-width="0.22" >5</text>
<line x1="205.0" y1="367.2" x2="205.0" y2="370.4" stroke="#000" stroke-width="1.2"/>
<text x="205.02" y="376.90" font-size="7.5" font-weight="bold" text-anchor="middle" fill="#222" stroke="#222" stroke-width="0.22" >6</text>
<text x="127.01" y="388.80" font-size="8.2" font-weight="bold" text-anchor="middle" fill="#111" stroke="#111" stroke-width="0.22" letter-spacing="0.1">Time (h)</text>
<text x="126.51" y="230.90" font-size="9.3" font-weight="bold" text-anchor="middle" fill="#111" stroke="#111" stroke-width="0.22" letter-spacing="0.05">CCARM3806</text>
<text x="0" y="0" font-size="10.8" font-weight="bold" fill="#111" stroke="#111" stroke-width="0.2" text-anchor="middle" transform="translate(19.2 296.9) rotate(-90)">OD<tspan font-size="6.9" dy="2.1">600</tspan></text>
<line x1="67.7" y1="356.2" x2="67.7" y2="358.9" stroke="#606060" stroke-width="0.8"/>
<line x1="66.9" y1="356.2" x2="68.5" y2="356.2" stroke="#606060" stroke-width="0.8"/>
<line x1="66.9" y1="358.9" x2="68.5" y2="358.9" stroke="#606060" stroke-width="0.8"/>
<line x1="95.1" y1="347.3" x2="95.1" y2="352.8" stroke="#606060" stroke-width="0.8"/>
<line x1="94.3" y1="347.3" x2="95.9" y2="347.3" stroke="#606060" stroke-width="0.8"/>
<line x1="94.3" y1="352.8" x2="95.9" y2="352.8" stroke="#606060" stroke-width="0.8"/>
<line x1="122.6" y1="324.2" x2="122.6" y2="336.5" stroke="#606060" stroke-width="0.8"/>
<line x1="121.8" y1="324.2" x2="123.4" y2="324.2" stroke="#606060" stroke-width="0.8"/>
<line x1="121.8" y1="336.5" x2="123.4" y2="336.5" stroke="#606060" stroke-width="0.8"/>
<line x1="150.1" y1="298.9" x2="150.1" y2="308.5" stroke="#606060" stroke-width="0.8"/>
<line x1="149.3" y1="298.9" x2="150.9" y2="298.9" stroke="#606060" stroke-width="0.8"/>
<line x1="149.3" y1="308.5" x2="150.9" y2="308.5" stroke="#606060" stroke-width="0.8"/>
<line x1="177.6" y1="286.6" x2="177.6" y2="292.1" stroke="#606060" stroke-width="0.8"/>
<line x1="176.8" y1="286.6" x2="178.4" y2="286.6" stroke="#606060" stroke-width="0.8"/>
<line x1="176.8" y1="292.1" x2="178.4" y2="292.1" stroke="#606060" stroke-width="0.8"/>
<line x1="205.0" y1="275.1" x2="205.0" y2="281.9" stroke="#606060" stroke-width="0.8"/>
<line x1="204.2" y1="275.1" x2="205.8" y2="275.1" stroke="#606060" stroke-width="0.8"/>
<line x1="204.2" y1="281.9" x2="205.8" y2="281.9" stroke="#606060" stroke-width="0.8"/>
<line x1="95.1" y1="357.6" x2="95.1" y2="360.3" stroke="#8a8a8a" stroke-width="0.8"/>
<line x1="94.3" y1="357.6" x2="95.9" y2="357.6" stroke="#8a8a8a" stroke-width="0.8"/>
<line x1="94.3" y1="360.3" x2="95.9" y2="360.3" stroke="#8a8a8a" stroke-width="0.8"/>
<line x1="122.6" y1="347.9" x2="122.6" y2="356.2" stroke="#8a8a8a" stroke-width="0.8"/>
<line x1="121.8" y1="347.9" x2="123.4" y2="347.9" stroke="#8a8a8a" stroke-width="0.8"/>
<line x1="121.8" y1="356.2" x2="123.4" y2="356.2" stroke="#8a8a8a" stroke-width="0.8"/>
<line x1="150.1" y1="325.8" x2="150.1" y2="343.7" stroke="#8a8a8a" stroke-width="0.8"/>
<line x1="149.3" y1="325.8" x2="150.9" y2="325.8" stroke="#8a8a8a" stroke-width="0.8"/>
<line x1="149.3" y1="343.7" x2="150.9" y2="343.7" stroke="#8a8a8a" stroke-width="0.8"/>
<line x1="177.6" y1="297.6" x2="177.6" y2="322.4" stroke="#8a8a8a" stroke-width="0.8"/>
<line x1="176.8" y1="297.6" x2="178.4" y2="297.6" stroke="#8a8a8a" stroke-width="0.8"/>
<line x1="176.8" y1="322.4" x2="178.4" y2="322.4" stroke="#8a8a8a" stroke-width="0.8"/>
<line x1="205.0" y1="290.2" x2="205.0" y2="298.4" stroke="#8a8a8a" stroke-width="0.8"/>
<line x1="204.2" y1="290.2" x2="205.8" y2="290.2" stroke="#8a8a8a" stroke-width="0.8"/>
<line x1="204.2" y1="298.4" x2="205.8" y2="298.4" stroke="#8a8a8a" stroke-width="0.8"/>
<line x1="122.6" y1="355.5" x2="122.6" y2="361.0" stroke="#62bcff" stroke-width="0.8"/>
<line x1="121.8" y1="355.5" x2="123.4" y2="355.5" stroke="#62bcff" stroke-width="0.8"/>
<line x1="121.8" y1="361.0" x2="123.4" y2="361.0" stroke="#62bcff" stroke-width="0.8"/>
<line x1="150.1" y1="343.1" x2="150.1" y2="355.5" stroke="#62bcff" stroke-width="0.8"/>
<line x1="149.3" y1="343.1" x2="150.9" y2="343.1" stroke="#62bcff" stroke-width="0.8"/>
<line x1="149.3" y1="355.5" x2="150.9" y2="355.5" stroke="#62bcff" stroke-width="0.8"/>
<line x1="177.6" y1="313.6" x2="177.6" y2="346.6" stroke="#62bcff" stroke-width="0.8"/>
<line x1="176.8" y1="313.6" x2="178.4" y2="313.6" stroke="#62bcff" stroke-width="0.8"/>
<line x1="176.8" y1="346.6" x2="178.4" y2="346.6" stroke="#62bcff" stroke-width="0.8"/>
<line x1="205.0" y1="286.1" x2="205.0" y2="330.1" stroke="#62bcff" stroke-width="0.8"/>
<line x1="204.2" y1="286.1" x2="205.8" y2="286.1" stroke="#62bcff" stroke-width="0.8"/>
<line x1="204.2" y1="330.1" x2="205.8" y2="330.1" stroke="#62bcff" stroke-width="0.8"/>
<line x1="122.6" y1="353.4" x2="122.6" y2="358.9" stroke="#4cf44c" stroke-width="0.8"/>
<line x1="121.8" y1="353.4" x2="123.4" y2="353.4" stroke="#4cf44c" stroke-width="0.8"/>
<line x1="121.8" y1="358.9" x2="123.4" y2="358.9" stroke="#4cf44c" stroke-width="0.8"/>
<line x1="150.1" y1="340.5" x2="150.1" y2="348.8" stroke="#4cf44c" stroke-width="0.8"/>
<line x1="149.3" y1="340.5" x2="150.9" y2="340.5" stroke="#4cf44c" stroke-width="0.8"/>
<line x1="149.3" y1="348.8" x2="150.9" y2="348.8" stroke="#4cf44c" stroke-width="0.8"/>
<line x1="177.6" y1="311.6" x2="177.6" y2="328.1" stroke="#4cf44c" stroke-width="0.8"/>
<line x1="176.8" y1="311.6" x2="178.4" y2="311.6" stroke="#4cf44c" stroke-width="0.8"/>
<line x1="176.8" y1="328.1" x2="178.4" y2="328.1" stroke="#4cf44c" stroke-width="0.8"/>
<line x1="205.0" y1="294.6" x2="205.0" y2="302.9" stroke="#4cf44c" stroke-width="0.8"/>
<line x1="204.2" y1="294.6" x2="205.8" y2="294.6" stroke="#4cf44c" stroke-width="0.8"/>
<line x1="204.2" y1="302.9" x2="205.8" y2="302.9" stroke="#4cf44c" stroke-width="0.8"/>
<polyline points="40.2,361.0 67.7,360.7 95.1,360.3 122.6,358.3 150.1,350.0 177.6,330.8 205.0,306.7" fill="none" stroke="#ffb2b2" stroke-width="0.8"/>
<polyline points="40.2,361.0 67.7,360.9 95.1,360.7 122.6,360.3 150.1,358.5 177.6,351.2 205.0,332.0" fill="none" stroke="#e766ec" stroke-width="0.8"/>
<polyline points="40.2,361.0 67.7,360.9 95.1,360.6 122.6,359.6 150.1,355.6 177.6,341.8 205.0,317.0" fill="none" stroke="#fa6faf" stroke-width="0.8"/>
<polyline points="40.2,361.0 67.7,360.7 95.1,360.3 122.6,358.9 150.1,350.7 177.6,332.8 205.0,309.4" fill="none" stroke="#6fb2c2" stroke-width="0.8"/>
<polyline points="40.2,361.0 67.7,360.7 95.1,360.3 122.6,358.3 150.1,349.3 177.6,330.1 205.0,308.1" fill="none" stroke="#79c6ff" stroke-width="0.8"/>
<polyline points="40.2,361.0 67.7,360.7 95.1,360.3 122.6,358.3 150.1,350.0 177.6,332.8 205.0,308.1" fill="none" stroke="#6fd9b2" stroke-width="0.8"/>
<polyline points="40.2,361.0 67.7,360.6 95.1,360.1 122.6,357.6 150.1,346.6 177.6,321.8 205.0,299.1" fill="none" stroke="#6666f6" stroke-width="0.8"/>
<polyline points="40.2,361.0 67.7,360.6 95.1,359.6 122.6,356.2 150.1,344.6 177.6,319.9 205.0,298.7" fill="none" stroke="#66f666" stroke-width="0.8"/>
<polyline points="40.2,361.0 67.7,361.0 95.1,361.0 122.6,361.0 150.1,361.0 177.6,360.9 205.0,360.3" fill="none" stroke="#ffcf66" stroke-width="0.8"/>
<polyline points="40.2,361.0 67.7,359.6 95.1,358.9 122.6,352.1 150.1,334.8 177.6,310.0 205.0,294.3" fill="none" stroke="#a0a0a0" stroke-width="0.8"/>
<polyline points="40.2,361.0 67.7,357.6 95.1,350.0 122.6,330.3 150.1,303.7 177.6,289.4 205.0,278.5" fill="none" stroke="#585858" stroke-width="0.8"/>
<circle cx="40.2" cy="361.0" r="1.62" fill="#000000"/>
<circle cx="67.7" cy="357.6" r="1.62" fill="#000000"/>
<circle cx="95.1" cy="350.0" r="1.62" fill="#000000"/>
<circle cx="122.6" cy="330.3" r="1.62" fill="#000000"/>
<circle cx="150.1" cy="303.7" r="1.62" fill="#000000"/>
<circle cx="177.6" cy="289.4" r="1.62" fill="#000000"/>
<circle cx="205.0" cy="278.5" r="1.62" fill="#000000"/>
<circle cx="40.2" cy="361.0" r="1.62" fill="#555555"/>
<circle cx="67.7" cy="359.6" r="1.62" fill="#555555"/>
<circle cx="95.1" cy="358.9" r="1.62" fill="#555555"/>
<circle cx="122.6" cy="352.1" r="1.62" fill="#555555"/>
<circle cx="150.1" cy="334.8" r="1.62" fill="#555555"/>
<circle cx="177.6" cy="310.0" r="1.62" fill="#555555"/>
<circle cx="205.0" cy="294.3" r="1.62" fill="#555555"/>
<circle cx="40.2" cy="361.0" r="1.62" fill="#0000f0"/>
<circle cx="67.7" cy="360.6" r="1.62" fill="#0000f0"/>
<circle cx="95.1" cy="360.1" r="1.62" fill="#0000f0"/>
<circle cx="122.6" cy="357.6" r="1.62" fill="#0000f0"/>
<circle cx="150.1" cy="346.6" r="1.62" fill="#0000f0"/>
<circle cx="177.6" cy="321.8" r="1.62" fill="#0000f0"/>
<circle cx="205.0" cy="299.1" r="1.62" fill="#0000f0"/>
<circle cx="40.2" cy="361.0" r="1.62" fill="#00f000"/>
<circle cx="67.7" cy="360.6" r="1.62" fill="#00f000"/>
<circle cx="95.1" cy="359.6" r="1.62" fill="#00f000"/>
<circle cx="122.6" cy="356.2" r="1.62" fill="#00f000"/>
<circle cx="150.1" cy="344.6" r="1.62" fill="#00f000"/>
<circle cx="177.6" cy="319.9" r="1.62" fill="#00f000"/>
<circle cx="205.0" cy="298.7" r="1.62" fill="#00f000"/>
<circle cx="40.2" cy="361.0" r="1.62" fill="#20a0ff"/>
<circle cx="67.7" cy="360.7" r="1.62" fill="#20a0ff"/>
<circle cx="95.1" cy="360.3" r="1.62" fill="#20a0ff"/>
<circle cx="122.6" cy="358.3" r="1.62" fill="#20a0ff"/>
<circle cx="150.1" cy="349.3" r="1.62" fill="#20a0ff"/>
<circle cx="177.6" cy="330.1" r="1.62" fill="#20a0ff"/>
<circle cx="205.0" cy="308.1" r="1.62" fill="#20a0ff"/>
<circle cx="40.2" cy="361.0" r="1.62" fill="#10809a"/>
<circle cx="67.7" cy="360.7" r="1.62" fill="#10809a"/>
<circle cx="95.1" cy="360.3" r="1.62" fill="#10809a"/>
<circle cx="122.6" cy="358.9" r="1.62" fill="#10809a"/>
<circle cx="150.1" cy="350.7" r="1.62" fill="#10809a"/>
<circle cx="177.6" cy="332.8" r="1.62" fill="#10809a"/>
<circle cx="205.0" cy="309.4" r="1.62" fill="#10809a"/>
<circle cx="40.2" cy="361.0" r="1.62" fill="#10c080"/>
<circle cx="67.7" cy="360.7" r="1.62" fill="#10c080"/>
<circle cx="95.1" cy="360.3" r="1.62" fill="#10c080"/>
<circle cx="122.6" cy="358.3" r="1.62" fill="#10c080"/>
<circle cx="150.1" cy="350.0" r="1.62" fill="#10c080"/>
<circle cx="177.6" cy="332.8" r="1.62" fill="#10c080"/>
<circle cx="205.0" cy="308.1" r="1.62" fill="#10c080"/>
<circle cx="40.2" cy="361.0" r="1.62" fill="#f8107a"/>
<circle cx="67.7" cy="360.9" r="1.62" fill="#f8107a"/>
<circle cx="95.1" cy="360.6" r="1.62" fill="#f8107a"/>
<circle cx="122.6" cy="359.6" r="1.62" fill="#f8107a"/>
<circle cx="150.1" cy="355.6" r="1.62" fill="#f8107a"/>
<circle cx="177.6" cy="341.8" r="1.62" fill="#f8107a"/>
<circle cx="205.0" cy="317.0" r="1.62" fill="#f8107a"/>
<circle cx="40.2" cy="361.0" r="1.62" fill="#d800e0"/>
<circle cx="67.7" cy="360.9" r="1.62" fill="#d800e0"/>
<circle cx="95.1" cy="360.7" r="1.62" fill="#d800e0"/>
<circle cx="122.6" cy="360.3" r="1.62" fill="#d800e0"/>
<circle cx="150.1" cy="358.5" r="1.62" fill="#d800e0"/>
<circle cx="177.6" cy="351.2" r="1.62" fill="#d800e0"/>
<circle cx="205.0" cy="332.0" r="1.62" fill="#d800e0"/>
<circle cx="40.2" cy="361.0" r="1.62" fill="#ffb000"/>
<circle cx="67.7" cy="361.0" r="1.62" fill="#ffb000"/>
<circle cx="95.1" cy="361.0" r="1.62" fill="#ffb000"/>
<circle cx="122.6" cy="361.0" r="1.62" fill="#ffb000"/>
<circle cx="150.1" cy="361.0" r="1.62" fill="#ffb000"/>
<circle cx="177.6" cy="360.9" r="1.62" fill="#ffb000"/>
<circle cx="205.0" cy="360.3" r="1.62" fill="#ffb000"/>
<circle cx="40.2" cy="361.0" r="1.62" fill="#ff8080"/>
<circle cx="67.7" cy="360.7" r="1.62" fill="#ff8080"/>
<circle cx="95.1" cy="360.3" r="1.62" fill="#ff8080"/>
<circle cx="122.6" cy="358.3" r="1.62" fill="#ff8080"/>
<circle cx="150.1" cy="350.0" r="1.62" fill="#ff8080"/>
<circle cx="177.6" cy="330.8" r="1.62" fill="#ff8080"/>
<circle cx="205.0" cy="306.7" r="1.62" fill="#ff8080"/>
<circle cx="175.2" cy="347.7" r="0.8" fill="#222"/>
<circle cx="177.6" cy="347.7" r="0.8" fill="#222"/>
<circle cx="179.9" cy="347.7" r="0.8" fill="#222"/>
<circle cx="202.7" cy="329.1" r="0.8" fill="#222"/>
<circle cx="205.0" cy="329.1" r="0.8" fill="#222"/>
<circle cx="207.3" cy="329.1" r="0.8" fill="#222"/>
<circle cx="175.2" cy="357.8" r="0.8" fill="#222"/>
<circle cx="177.6" cy="357.8" r="0.8" fill="#222"/>
<circle cx="179.9" cy="357.8" r="0.8" fill="#222"/>
<circle cx="202.7" cy="356.2" r="0.8" fill="#222"/>
<circle cx="205.0" cy="356.2" r="0.8" fill="#222"/>
<circle cx="207.3" cy="356.2" r="0.8" fill="#222"/>
<line x1="279.6" y1="230.1" x2="279.6" y2="368.0" stroke="#000" stroke-width="1.5"/>
<line x1="278.9" y1="367.3" x2="453.5" y2="367.3" stroke="#000" stroke-width="1.5"/>
<line x1="276.4" y1="367.3" x2="279.6" y2="367.3" stroke="#000" stroke-width="1.2"/>
<text x="275.70" y="370.00" font-size="7.5" font-weight="bold" text-anchor="end" fill="#222" stroke="#222" stroke-width="0.22" >0.0</text>
<line x1="276.4" y1="340.0" x2="279.6" y2="340.0" stroke="#000" stroke-width="1.2"/>
<text x="275.70" y="342.68" font-size="7.5" font-weight="bold" text-anchor="end" fill="#222" stroke="#222" stroke-width="0.22" >0.2</text>
<line x1="276.4" y1="312.7" x2="279.6" y2="312.7" stroke="#000" stroke-width="1.2"/>
<text x="275.70" y="315.36" font-size="7.5" font-weight="bold" text-anchor="end" fill="#222" stroke="#222" stroke-width="0.22" >0.4</text>
<line x1="276.4" y1="285.3" x2="279.6" y2="285.3" stroke="#000" stroke-width="1.2"/>
<text x="275.70" y="288.04" font-size="7.5" font-weight="bold" text-anchor="end" fill="#222" stroke="#222" stroke-width="0.22" >0.6</text>
<line x1="276.4" y1="258.0" x2="279.6" y2="258.0" stroke="#000" stroke-width="1.2"/>
<text x="275.70" y="260.72" font-size="7.5" font-weight="bold" text-anchor="end" fill="#222" stroke="#222" stroke-width="0.22" >0.8</text>
<line x1="276.4" y1="230.7" x2="279.6" y2="230.7" stroke="#000" stroke-width="1.2"/>
<text x="275.70" y="233.40" font-size="7.5" font-weight="bold" text-anchor="end" fill="#222" stroke="#222" stroke-width="0.22" >1.0</text>
<line x1="279.6" y1="367.3" x2="279.6" y2="370.5" stroke="#000" stroke-width="1.2"/>
<text x="279.60" y="377.00" font-size="7.5" font-weight="bold" text-anchor="middle" fill="#222" stroke="#222" stroke-width="0.22" >0</text>
<line x1="307.1" y1="367.3" x2="307.1" y2="370.5" stroke="#000" stroke-width="1.2"/>
<text x="307.12" y="377.00" font-size="7.5" font-weight="bold" text-anchor="middle" fill="#222" stroke="#222" stroke-width="0.22" >1</text>
<line x1="334.6" y1="367.3" x2="334.6" y2="370.5" stroke="#000" stroke-width="1.2"/>
<text x="334.64" y="377.00" font-size="7.5" font-weight="bold" text-anchor="middle" fill="#222" stroke="#222" stroke-width="0.22" >2</text>
<line x1="362.2" y1="367.3" x2="362.2" y2="370.5" stroke="#000" stroke-width="1.2"/>
<text x="362.16" y="377.00" font-size="7.5" font-weight="bold" text-anchor="middle" fill="#222" stroke="#222" stroke-width="0.22" >3</text>
<line x1="389.7" y1="367.3" x2="389.7" y2="370.5" stroke="#000" stroke-width="1.2"/>
<text x="389.68" y="377.00" font-size="7.5" font-weight="bold" text-anchor="middle" fill="#222" stroke="#222" stroke-width="0.22" >4</text>
<line x1="417.2" y1="367.3" x2="417.2" y2="370.5" stroke="#000" stroke-width="1.2"/>
<text x="417.20" y="377.00" font-size="7.5" font-weight="bold" text-anchor="middle" fill="#222" stroke="#222" stroke-width="0.22" >5</text>
<line x1="444.7" y1="367.3" x2="444.7" y2="370.5" stroke="#000" stroke-width="1.2"/>
<text x="444.72" y="377.00" font-size="7.5" font-weight="bold" text-anchor="middle" fill="#222" stroke="#222" stroke-width="0.22" >6</text>
<text x="366.56" y="388.90" font-size="8.2" font-weight="bold" text-anchor="middle" fill="#111" stroke="#111" stroke-width="0.22" letter-spacing="0.1">Time (h)</text>
<text x="366.06" y="231.90" font-size="9.3" font-weight="bold" text-anchor="middle" fill="#111" stroke="#111" stroke-width="0.22" letter-spacing="0.05">CCARM3825</text>
<text x="0" y="0" font-size="10.8" font-weight="bold" fill="#111" stroke="#111" stroke-width="0.2" text-anchor="middle" transform="translate(258.6 297.5) rotate(-90)">OD<tspan font-size="6.9" dy="2.1">600</tspan></text>
<line x1="307.1" y1="358.7" x2="307.1" y2="360.1" stroke="#606060" stroke-width="0.8"/>
<line x1="306.3" y1="358.7" x2="307.9" y2="358.7" stroke="#606060" stroke-width="0.8"/>
<line x1="306.3" y1="360.1" x2="307.9" y2="360.1" stroke="#606060" stroke-width="0.8"/>
<line x1="334.6" y1="346.1" x2="334.6" y2="354.3" stroke="#606060" stroke-width="0.8"/>
<line x1="333.8" y1="346.1" x2="335.4" y2="346.1" stroke="#606060" stroke-width="0.8"/>
<line x1="333.8" y1="354.3" x2="335.4" y2="354.3" stroke="#606060" stroke-width="0.8"/>
<line x1="362.2" y1="320.6" x2="362.2" y2="339.7" stroke="#606060" stroke-width="0.8"/>
<line x1="361.4" y1="320.6" x2="363.0" y2="320.6" stroke="#606060" stroke-width="0.8"/>
<line x1="361.4" y1="339.7" x2="363.0" y2="339.7" stroke="#606060" stroke-width="0.8"/>
<line x1="389.7" y1="289.6" x2="389.7" y2="313.3" stroke="#606060" stroke-width="0.8"/>
<line x1="388.9" y1="289.6" x2="390.5" y2="289.6" stroke="#606060" stroke-width="0.8"/>
<line x1="388.9" y1="313.3" x2="390.5" y2="313.3" stroke="#606060" stroke-width="0.8"/>
<line x1="417.2" y1="271.1" x2="417.2" y2="290.3" stroke="#606060" stroke-width="0.8"/>
<line x1="416.4" y1="271.1" x2="418.0" y2="271.1" stroke="#606060" stroke-width="0.8"/>
<line x1="416.4" y1="290.3" x2="418.0" y2="290.3" stroke="#606060" stroke-width="0.8"/>
<line x1="444.7" y1="262.8" x2="444.7" y2="279.2" stroke="#606060" stroke-width="0.8"/>
<line x1="443.9" y1="262.8" x2="445.5" y2="262.8" stroke="#606060" stroke-width="0.8"/>
<line x1="443.9" y1="279.2" x2="445.5" y2="279.2" stroke="#606060" stroke-width="0.8"/>
<line x1="334.6" y1="355.0" x2="334.6" y2="360.5" stroke="#8a8a8a" stroke-width="0.8"/>
<line x1="333.8" y1="355.0" x2="335.4" y2="355.0" stroke="#8a8a8a" stroke-width="0.8"/>
<line x1="333.8" y1="360.5" x2="335.4" y2="360.5" stroke="#8a8a8a" stroke-width="0.8"/>
<line x1="362.2" y1="337.1" x2="362.2" y2="354.9" stroke="#8a8a8a" stroke-width="0.8"/>
<line x1="361.4" y1="337.1" x2="363.0" y2="337.1" stroke="#8a8a8a" stroke-width="0.8"/>
<line x1="361.4" y1="354.9" x2="363.0" y2="354.9" stroke="#8a8a8a" stroke-width="0.8"/>
<line x1="389.7" y1="308.0" x2="389.7" y2="335.3" stroke="#8a8a8a" stroke-width="0.8"/>
<line x1="388.9" y1="308.0" x2="390.5" y2="308.0" stroke="#8a8a8a" stroke-width="0.8"/>
<line x1="388.9" y1="335.3" x2="390.5" y2="335.3" stroke="#8a8a8a" stroke-width="0.8"/>
<line x1="417.2" y1="286.2" x2="417.2" y2="308.0" stroke="#8a8a8a" stroke-width="0.8"/>
<line x1="416.4" y1="286.2" x2="418.0" y2="286.2" stroke="#8a8a8a" stroke-width="0.8"/>
<line x1="416.4" y1="308.0" x2="418.0" y2="308.0" stroke="#8a8a8a" stroke-width="0.8"/>
<line x1="444.7" y1="270.9" x2="444.7" y2="284.5" stroke="#8a8a8a" stroke-width="0.8"/>
<line x1="443.9" y1="270.9" x2="445.5" y2="270.9" stroke="#8a8a8a" stroke-width="0.8"/>
<line x1="443.9" y1="284.5" x2="445.5" y2="284.5" stroke="#8a8a8a" stroke-width="0.8"/>
<line x1="362.2" y1="350.2" x2="362.2" y2="358.4" stroke="#62bcff" stroke-width="0.8"/>
<line x1="361.4" y1="350.2" x2="363.0" y2="350.2" stroke="#62bcff" stroke-width="0.8"/>
<line x1="361.4" y1="358.4" x2="363.0" y2="358.4" stroke="#62bcff" stroke-width="0.8"/>
<line x1="389.7" y1="333.7" x2="389.7" y2="347.4" stroke="#62bcff" stroke-width="0.8"/>
<line x1="388.9" y1="333.7" x2="390.5" y2="333.7" stroke="#62bcff" stroke-width="0.8"/>
<line x1="388.9" y1="347.4" x2="390.5" y2="347.4" stroke="#62bcff" stroke-width="0.8"/>
<line x1="417.2" y1="306.9" x2="417.2" y2="328.8" stroke="#62bcff" stroke-width="0.8"/>
<line x1="416.4" y1="306.9" x2="418.0" y2="306.9" stroke="#62bcff" stroke-width="0.8"/>
<line x1="416.4" y1="328.8" x2="418.0" y2="328.8" stroke="#62bcff" stroke-width="0.8"/>
<line x1="444.7" y1="284.5" x2="444.7" y2="306.4" stroke="#62bcff" stroke-width="0.8"/>
<line x1="443.9" y1="284.5" x2="445.5" y2="284.5" stroke="#62bcff" stroke-width="0.8"/>
<line x1="443.9" y1="306.4" x2="445.5" y2="306.4" stroke="#62bcff" stroke-width="0.8"/>
<polyline points="279.6,361.2 307.1,360.5 334.6,359.1 362.2,352.3 389.7,334.5 417.2,307.9 444.7,291.5" fill="none" stroke="#ffb2b2" stroke-width="0.8"/>
<polyline points="279.6,361.2 307.1,361.0 334.6,360.7 362.2,358.4 389.7,351.9 417.2,338.6 444.7,304.5" fill="none" stroke="#e766ec" stroke-width="0.8"/>
<polyline points="279.6,361.2 307.1,361.0 334.6,360.5 362.2,357.7 389.7,351.9 417.2,333.7 444.7,302.4" fill="none" stroke="#fa6faf" stroke-width="0.8"/>
<polyline points="279.6,361.2 307.1,360.9 334.6,360.2 362.2,355.7 389.7,346.0 417.2,326.6 444.7,298.9" fill="none" stroke="#6fb2c2" stroke-width="0.8"/>
<polyline points="279.6,361.2 307.1,360.7 334.6,359.9 362.2,354.3 389.7,340.5 417.2,317.9 444.7,295.4" fill="none" stroke="#79c6ff" stroke-width="0.8"/>
<polyline points="279.6,361.2 307.1,360.5 334.6,359.4 362.2,352.3 389.7,334.5 417.2,309.9 444.7,296.3" fill="none" stroke="#6fd9b2" stroke-width="0.8"/>
<polyline points="279.6,361.2 307.1,360.5 334.6,359.7 362.2,353.0 389.7,336.0 417.2,310.9 444.7,286.7" fill="none" stroke="#6666f6" stroke-width="0.8"/>
<polyline points="279.6,361.2 307.1,360.2 334.6,358.8 362.2,350.9 389.7,332.2 417.2,306.0 444.7,284.1" fill="none" stroke="#66f666" stroke-width="0.8"/>
<polyline points="279.6,361.2 307.1,361.2 334.6,361.0 362.2,359.1 389.7,353.9 417.2,343.4 444.7,321.3" fill="none" stroke="#ffcf66" stroke-width="0.8"/>
<polyline points="279.6,361.2 307.1,359.8 334.6,357.7 362.2,346.0 389.7,321.7 417.2,297.1 444.7,277.7" fill="none" stroke="#a0a0a0" stroke-width="0.8"/>
<polyline points="279.6,361.2 307.1,359.4 334.6,350.2 362.2,330.1 389.7,301.5 417.2,280.7 444.7,271.0" fill="none" stroke="#585858" stroke-width="0.8"/>
<circle cx="279.6" cy="361.2" r="1.62" fill="#000000"/>
<circle cx="307.1" cy="359.4" r="1.62" fill="#000000"/>
<circle cx="334.6" cy="350.2" r="1.62" fill="#000000"/>
<circle cx="362.2" cy="330.1" r="1.62" fill="#000000"/>
<circle cx="389.7" cy="301.5" r="1.62" fill="#000000"/>
<circle cx="417.2" cy="280.7" r="1.62" fill="#000000"/>
<circle cx="444.7" cy="271.0" r="1.62" fill="#000000"/>
<circle cx="279.6" cy="361.2" r="1.62" fill="#555555"/>
<circle cx="307.1" cy="359.8" r="1.62" fill="#555555"/>
<circle cx="334.6" cy="357.7" r="1.62" fill="#555555"/>
<circle cx="362.2" cy="346.0" r="1.62" fill="#555555"/>
<circle cx="389.7" cy="321.7" r="1.62" fill="#555555"/>
<circle cx="417.2" cy="297.1" r="1.62" fill="#555555"/>
<circle cx="444.7" cy="277.7" r="1.62" fill="#555555"/>
<circle cx="279.6" cy="361.2" r="1.62" fill="#0000f0"/>
<circle cx="307.1" cy="360.5" r="1.62" fill="#0000f0"/>
<circle cx="334.6" cy="359.7" r="1.62" fill="#0000f0"/>
<circle cx="362.2" cy="353.0" r="1.62" fill="#0000f0"/>
<circle cx="389.7" cy="336.0" r="1.62" fill="#0000f0"/>
<circle cx="417.2" cy="310.9" r="1.62" fill="#0000f0"/>
<circle cx="444.7" cy="286.7" r="1.62" fill="#0000f0"/>
<circle cx="279.6" cy="361.2" r="1.62" fill="#00f000"/>
<circle cx="307.1" cy="360.2" r="1.62" fill="#00f000"/>
<circle cx="334.6" cy="358.8" r="1.62" fill="#00f000"/>
<circle cx="362.2" cy="350.9" r="1.62" fill="#00f000"/>
<circle cx="389.7" cy="332.2" r="1.62" fill="#00f000"/>
<circle cx="417.2" cy="306.0" r="1.62" fill="#00f000"/>
<circle cx="444.7" cy="284.1" r="1.62" fill="#00f000"/>
<circle cx="279.6" cy="361.2" r="1.62" fill="#20a0ff"/>
<circle cx="307.1" cy="360.7" r="1.62" fill="#20a0ff"/>
<circle cx="334.6" cy="359.9" r="1.62" fill="#20a0ff"/>
<circle cx="362.2" cy="354.3" r="1.62" fill="#20a0ff"/>
<circle cx="389.7" cy="340.5" r="1.62" fill="#20a0ff"/>
<circle cx="417.2" cy="317.9" r="1.62" fill="#20a0ff"/>
<circle cx="444.7" cy="295.4" r="1.62" fill="#20a0ff"/>
<circle cx="279.6" cy="361.2" r="1.62" fill="#10809a"/>
<circle cx="307.1" cy="360.9" r="1.62" fill="#10809a"/>
<circle cx="334.6" cy="360.2" r="1.62" fill="#10809a"/>
<circle cx="362.2" cy="355.7" r="1.62" fill="#10809a"/>
<circle cx="389.7" cy="346.0" r="1.62" fill="#10809a"/>
<circle cx="417.2" cy="326.6" r="1.62" fill="#10809a"/>
<circle cx="444.7" cy="298.9" r="1.62" fill="#10809a"/>
<circle cx="279.6" cy="361.2" r="1.62" fill="#10c080"/>
<circle cx="307.1" cy="360.5" r="1.62" fill="#10c080"/>
<circle cx="334.6" cy="359.4" r="1.62" fill="#10c080"/>
<circle cx="362.2" cy="352.3" r="1.62" fill="#10c080"/>
<circle cx="389.7" cy="334.5" r="1.62" fill="#10c080"/>
<circle cx="417.2" cy="309.9" r="1.62" fill="#10c080"/>
<circle cx="444.7" cy="296.3" r="1.62" fill="#10c080"/>
<circle cx="279.6" cy="361.2" r="1.62" fill="#f8107a"/>
<circle cx="307.1" cy="361.0" r="1.62" fill="#f8107a"/>
<circle cx="334.6" cy="360.5" r="1.62" fill="#f8107a"/>
<circle cx="362.2" cy="357.7" r="1.62" fill="#f8107a"/>
<circle cx="389.7" cy="351.9" r="1.62" fill="#f8107a"/>
<circle cx="417.2" cy="333.7" r="1.62" fill="#f8107a"/>
<circle cx="444.7" cy="302.4" r="1.62" fill="#f8107a"/>
<circle cx="279.6" cy="361.2" r="1.62" fill="#d800e0"/>
<circle cx="307.1" cy="361.0" r="1.62" fill="#d800e0"/>
<circle cx="334.6" cy="360.7" r="1.62" fill="#d800e0"/>
<circle cx="362.2" cy="358.4" r="1.62" fill="#d800e0"/>
<circle cx="389.7" cy="351.9" r="1.62" fill="#d800e0"/>
<circle cx="417.2" cy="338.6" r="1.62" fill="#d800e0"/>
<circle cx="444.7" cy="304.5" r="1.62" fill="#d800e0"/>
<circle cx="279.6" cy="361.2" r="1.62" fill="#ffb000"/>
<circle cx="307.1" cy="361.2" r="1.62" fill="#ffb000"/>
<circle cx="334.6" cy="361.0" r="1.62" fill="#ffb000"/>
<circle cx="362.2" cy="359.1" r="1.62" fill="#ffb000"/>
<circle cx="389.7" cy="353.9" r="1.62" fill="#ffb000"/>
<circle cx="417.2" cy="343.4" r="1.62" fill="#ffb000"/>
<circle cx="444.7" cy="321.3" r="1.62" fill="#ffb000"/>
<circle cx="279.6" cy="361.2" r="1.62" fill="#ff8080"/>
<circle cx="307.1" cy="360.5" r="1.62" fill="#ff8080"/>
<circle cx="334.6" cy="359.1" r="1.62" fill="#ff8080"/>
<circle cx="362.2" cy="352.3" r="1.62" fill="#ff8080"/>
<circle cx="389.7" cy="334.5" r="1.62" fill="#ff8080"/>
<circle cx="417.2" cy="307.9" r="1.62" fill="#ff8080"/>
<circle cx="444.7" cy="291.5" r="1.62" fill="#ff8080"/>
<circle cx="442.4" cy="318.4" r="0.8" fill="#222"/>
<circle cx="444.7" cy="318.4" r="0.8" fill="#222"/>
<circle cx="447.0" cy="318.4" r="0.8" fill="#222"/>
<circle cx="414.9" cy="339.2" r="0.8" fill="#222"/>
<circle cx="417.2" cy="339.2" r="0.8" fill="#222"/>
<circle cx="419.5" cy="339.2" r="0.8" fill="#222"/>
<circle cx="387.4" cy="350.0" r="0.8" fill="#222"/>
<circle cx="389.7" cy="350.0" r="0.8" fill="#222"/>
<circle cx="392.0" cy="350.0" r="0.8" fill="#222"/>
<circle cx="416.0" cy="330.1" r="0.8" fill="#222"/>
<circle cx="418.4" cy="330.1" r="0.8" fill="#222"/>
<line x1="39.9" y1="416.8" x2="39.9" y2="555.2" stroke="#000" stroke-width="1.5"/>
<line x1="39.2" y1="554.5" x2="213.5" y2="554.5" stroke="#000" stroke-width="1.5"/>
<line x1="36.7" y1="554.5" x2="39.9" y2="554.5" stroke="#000" stroke-width="1.2"/>
<text x="36.00" y="557.20" font-size="7.5" font-weight="bold" text-anchor="end" fill="#222" stroke="#222" stroke-width="0.22" >0.0</text>
<line x1="36.7" y1="527.1" x2="39.9" y2="527.1" stroke="#000" stroke-width="1.2"/>
<text x="36.00" y="529.78" font-size="7.5" font-weight="bold" text-anchor="end" fill="#222" stroke="#222" stroke-width="0.22" >0.2</text>
<line x1="36.7" y1="499.7" x2="39.9" y2="499.7" stroke="#000" stroke-width="1.2"/>
<text x="36.00" y="502.36" font-size="7.5" font-weight="bold" text-anchor="end" fill="#222" stroke="#222" stroke-width="0.22" >0.4</text>
<line x1="36.7" y1="472.2" x2="39.9" y2="472.2" stroke="#000" stroke-width="1.2"/>
<text x="36.00" y="474.94" font-size="7.5" font-weight="bold" text-anchor="end" fill="#222" stroke="#222" stroke-width="0.22" >0.6</text>
<line x1="36.7" y1="444.8" x2="39.9" y2="444.8" stroke="#000" stroke-width="1.2"/>
<text x="36.00" y="447.52" font-size="7.5" font-weight="bold" text-anchor="end" fill="#222" stroke="#222" stroke-width="0.22" >0.8</text>
<line x1="36.7" y1="417.4" x2="39.9" y2="417.4" stroke="#000" stroke-width="1.2"/>
<text x="36.00" y="420.10" font-size="7.5" font-weight="bold" text-anchor="end" fill="#222" stroke="#222" stroke-width="0.22" >1.0</text>
<line x1="39.9" y1="554.5" x2="39.9" y2="557.7" stroke="#000" stroke-width="1.2"/>
<text x="39.90" y="564.20" font-size="7.5" font-weight="bold" text-anchor="middle" fill="#222" stroke="#222" stroke-width="0.22" >0</text>
<line x1="67.4" y1="554.5" x2="67.4" y2="557.7" stroke="#000" stroke-width="1.2"/>
<text x="67.37" y="564.20" font-size="7.5" font-weight="bold" text-anchor="middle" fill="#222" stroke="#222" stroke-width="0.22" >1</text>
<line x1="94.8" y1="554.5" x2="94.8" y2="557.7" stroke="#000" stroke-width="1.2"/>
<text x="94.84" y="564.20" font-size="7.5" font-weight="bold" text-anchor="middle" fill="#222" stroke="#222" stroke-width="0.22" >2</text>
<line x1="122.3" y1="554.5" x2="122.3" y2="557.7" stroke="#000" stroke-width="1.2"/>
<text x="122.31" y="564.20" font-size="7.5" font-weight="bold" text-anchor="middle" fill="#222" stroke="#222" stroke-width="0.22" >3</text>
<line x1="149.8" y1="554.5" x2="149.8" y2="557.7" stroke="#000" stroke-width="1.2"/>
<text x="149.78" y="564.20" font-size="7.5" font-weight="bold" text-anchor="middle" fill="#222" stroke="#222" stroke-width="0.22" >4</text>
<line x1="177.2" y1="554.5" x2="177.2" y2="557.7" stroke="#000" stroke-width="1.2"/>
<text x="177.25" y="564.20" font-size="7.5" font-weight="bold" text-anchor="middle" fill="#222" stroke="#222" stroke-width="0.22" >5</text>
<line x1="204.7" y1="554.5" x2="204.7" y2="557.7" stroke="#000" stroke-width="1.2"/>
<text x="204.72" y="564.20" font-size="7.5" font-weight="bold" text-anchor="middle" fill="#222" stroke="#222" stroke-width="0.22" >6</text>
<text x="126.71" y="576.10" font-size="8.2" font-weight="bold" text-anchor="middle" fill="#111" stroke="#111" stroke-width="0.22" letter-spacing="0.1">Time (h)</text>
<text x="126.21" y="418.60" font-size="9.3" font-weight="bold" text-anchor="middle" fill="#111" stroke="#111" stroke-width="0.22" letter-spacing="0.05">CCARM3832</text>
<text x="0" y="0" font-size="10.8" font-weight="bold" fill="#111" stroke="#111" stroke-width="0.2" text-anchor="middle" transform="translate(18.9 484.4) rotate(-90)">OD<tspan font-size="6.9" dy="2.1">600</tspan></text>
<line x1="67.4" y1="543.9" x2="67.4" y2="547.2" stroke="#606060" stroke-width="0.8"/>
<line x1="66.6" y1="543.9" x2="68.2" y2="543.9" stroke="#606060" stroke-width="0.8"/>
<line x1="66.6" y1="547.2" x2="68.2" y2="547.2" stroke="#606060" stroke-width="0.8"/>
<line x1="94.8" y1="527.8" x2="94.8" y2="542.8" stroke="#606060" stroke-width="0.8"/>
<line x1="94.0" y1="527.8" x2="95.6" y2="527.8" stroke="#606060" stroke-width="0.8"/>
<line x1="94.0" y1="542.8" x2="95.6" y2="542.8" stroke="#606060" stroke-width="0.8"/>
<line x1="122.3" y1="501.2" x2="122.3" y2="528.6" stroke="#606060" stroke-width="0.8"/>
<line x1="121.5" y1="501.2" x2="123.1" y2="501.2" stroke="#606060" stroke-width="0.8"/>
<line x1="121.5" y1="528.6" x2="123.1" y2="528.6" stroke="#606060" stroke-width="0.8"/>
<line x1="149.8" y1="482.0" x2="149.8" y2="498.4" stroke="#606060" stroke-width="0.8"/>
<line x1="149.0" y1="482.0" x2="150.6" y2="482.0" stroke="#606060" stroke-width="0.8"/>
<line x1="149.0" y1="498.4" x2="150.6" y2="498.4" stroke="#606060" stroke-width="0.8"/>
<line x1="177.2" y1="472.4" x2="177.2" y2="483.3" stroke="#606060" stroke-width="0.8"/>
<line x1="176.4" y1="472.4" x2="178.1" y2="472.4" stroke="#606060" stroke-width="0.8"/>
<line x1="176.4" y1="483.3" x2="178.1" y2="483.3" stroke="#606060" stroke-width="0.8"/>
<line x1="204.7" y1="467.3" x2="204.7" y2="472.8" stroke="#606060" stroke-width="0.8"/>
<line x1="203.9" y1="467.3" x2="205.5" y2="467.3" stroke="#606060" stroke-width="0.8"/>
<line x1="203.9" y1="472.8" x2="205.5" y2="472.8" stroke="#606060" stroke-width="0.8"/>
<line x1="94.8" y1="540.8" x2="94.8" y2="546.3" stroke="#fa57a1" stroke-width="0.8"/>
<line x1="94.0" y1="540.8" x2="95.6" y2="540.8" stroke="#fa57a1" stroke-width="0.8"/>
<line x1="94.0" y1="546.3" x2="95.6" y2="546.3" stroke="#fa57a1" stroke-width="0.8"/>
<line x1="122.3" y1="524.3" x2="122.3" y2="535.3" stroke="#fa57a1" stroke-width="0.8"/>
<line x1="121.5" y1="524.3" x2="123.1" y2="524.3" stroke="#fa57a1" stroke-width="0.8"/>
<line x1="121.5" y1="535.3" x2="123.1" y2="535.3" stroke="#fa57a1" stroke-width="0.8"/>
<line x1="149.8" y1="498.0" x2="149.8" y2="520.0" stroke="#fa57a1" stroke-width="0.8"/>
<line x1="149.0" y1="498.0" x2="150.6" y2="498.0" stroke="#fa57a1" stroke-width="0.8"/>
<line x1="149.0" y1="520.0" x2="150.6" y2="520.0" stroke="#fa57a1" stroke-width="0.8"/>
<line x1="177.2" y1="480.5" x2="177.2" y2="494.2" stroke="#fa57a1" stroke-width="0.8"/>
<line x1="176.4" y1="480.5" x2="178.1" y2="480.5" stroke="#fa57a1" stroke-width="0.8"/>
<line x1="176.4" y1="494.2" x2="178.1" y2="494.2" stroke="#fa57a1" stroke-width="0.8"/>
<line x1="204.7" y1="473.6" x2="204.7" y2="481.8" stroke="#fa57a1" stroke-width="0.8"/>
<line x1="203.9" y1="473.6" x2="205.5" y2="473.6" stroke="#fa57a1" stroke-width="0.8"/>
<line x1="203.9" y1="481.8" x2="205.5" y2="481.8" stroke="#fa57a1" stroke-width="0.8"/>
<line x1="122.3" y1="520.2" x2="122.3" y2="528.5" stroke="#62bcff" stroke-width="0.8"/>
<line x1="121.5" y1="520.2" x2="123.1" y2="520.2" stroke="#62bcff" stroke-width="0.8"/>
<line x1="121.5" y1="528.5" x2="123.1" y2="528.5" stroke="#62bcff" stroke-width="0.8"/>
<line x1="149.8" y1="488.7" x2="149.8" y2="499.7" stroke="#62bcff" stroke-width="0.8"/>
<line x1="149.0" y1="488.7" x2="150.6" y2="488.7" stroke="#62bcff" stroke-width="0.8"/>
<line x1="149.0" y1="499.7" x2="150.6" y2="499.7" stroke="#62bcff" stroke-width="0.8"/>
<line x1="177.2" y1="471.6" x2="177.2" y2="488.0" stroke="#62bcff" stroke-width="0.8"/>
<line x1="176.4" y1="471.6" x2="178.1" y2="471.6" stroke="#62bcff" stroke-width="0.8"/>
<line x1="176.4" y1="488.0" x2="178.1" y2="488.0" stroke="#62bcff" stroke-width="0.8"/>
<line x1="204.7" y1="470.9" x2="204.7" y2="479.1" stroke="#62bcff" stroke-width="0.8"/>
<line x1="203.9" y1="470.9" x2="205.5" y2="470.9" stroke="#62bcff" stroke-width="0.8"/>
<line x1="203.9" y1="479.1" x2="205.5" y2="479.1" stroke="#62bcff" stroke-width="0.8"/>
<line x1="204.7" y1="538.0" x2="204.7" y2="549.0" stroke="#ffc74c" stroke-width="0.8"/>
<line x1="203.9" y1="538.0" x2="205.5" y2="538.0" stroke="#ffc74c" stroke-width="0.8"/>
<line x1="203.9" y1="549.0" x2="205.5" y2="549.0" stroke="#ffc74c" stroke-width="0.8"/>
<polyline points="39.9,548.3 67.4,546.3 94.8,540.8 122.3,525.7 149.8,501.0 177.2,486.2 204.7,475.7" fill="none" stroke="#ffb2b2" stroke-width="0.8"/>
<polyline points="39.9,548.3 67.4,547.6 94.8,545.6 122.3,537.4 149.8,522.8 177.2,504.6 204.7,486.6" fill="none" stroke="#e766ec" stroke-width="0.8"/>
<polyline points="39.9,548.3 67.4,547.0 94.8,543.5 122.3,529.8 149.8,509.0 177.2,487.3 204.7,477.7" fill="none" stroke="#fa6faf" stroke-width="0.8"/>
<polyline points="39.9,548.3 67.4,546.5 94.8,541.5 122.3,527.1 149.8,504.0 177.2,487.9 204.7,476.4" fill="none" stroke="#6fb2c2" stroke-width="0.8"/>
<polyline points="39.9,548.3 67.4,546.3 94.8,540.8 122.3,524.3 149.8,494.2 177.2,479.8 204.7,475.0" fill="none" stroke="#79c6ff" stroke-width="0.8"/>
<polyline points="39.9,548.3 67.4,546.3 94.8,540.1 122.3,521.6 149.8,499.7 177.2,480.5 204.7,473.6" fill="none" stroke="#6fd9b2" stroke-width="0.8"/>
<polyline points="39.9,548.3 67.4,546.3 94.8,540.8 122.3,523.7 149.8,494.2 177.2,479.1 204.7,475.0" fill="none" stroke="#6666f6" stroke-width="0.8"/>
<polyline points="39.9,548.3 67.4,546.0 94.8,539.4 122.3,520.0 149.8,497.7 177.2,481.8 204.7,472.9" fill="none" stroke="#66f666" stroke-width="0.8"/>
<polyline points="39.9,548.3 67.4,548.3 94.8,548.2 122.3,548.1 149.8,547.9 177.2,547.6 204.7,543.5" fill="none" stroke="#ffcf66" stroke-width="0.8"/>
<polyline points="39.9,548.3 67.4,545.6 94.8,536.7 122.3,516.1 149.8,491.4 177.2,478.4 204.7,470.9" fill="none" stroke="#a0a0a0" stroke-width="0.8"/>
<polyline points="39.9,548.3 67.4,545.6 94.8,535.3 122.3,514.9 149.8,490.2 177.2,477.9 204.7,470.0" fill="none" stroke="#585858" stroke-width="0.8"/>
<circle cx="39.9" cy="548.3" r="1.62" fill="#000000"/>
<circle cx="67.4" cy="545.6" r="1.62" fill="#000000"/>
<circle cx="94.8" cy="535.3" r="1.62" fill="#000000"/>
<circle cx="122.3" cy="514.9" r="1.62" fill="#000000"/>
<circle cx="149.8" cy="490.2" r="1.62" fill="#000000"/>
<circle cx="177.2" cy="477.9" r="1.62" fill="#000000"/>
<circle cx="204.7" cy="470.0" r="1.62" fill="#000000"/>
<circle cx="39.9" cy="548.3" r="1.62" fill="#555555"/>
<circle cx="67.4" cy="545.6" r="1.62" fill="#555555"/>
<circle cx="94.8" cy="536.7" r="1.62" fill="#555555"/>
<circle cx="122.3" cy="516.1" r="1.62" fill="#555555"/>
<circle cx="149.8" cy="491.4" r="1.62" fill="#555555"/>
<circle cx="177.2" cy="478.4" r="1.62" fill="#555555"/>
<circle cx="204.7" cy="470.9" r="1.62" fill="#555555"/>
<circle cx="39.9" cy="548.3" r="1.62" fill="#0000f0"/>
<circle cx="67.4" cy="546.3" r="1.62" fill="#0000f0"/>
<circle cx="94.8" cy="540.8" r="1.62" fill="#0000f0"/>
<circle cx="122.3" cy="523.7" r="1.62" fill="#0000f0"/>
<circle cx="149.8" cy="494.2" r="1.62" fill="#0000f0"/>
<circle cx="177.2" cy="479.1" r="1.62" fill="#0000f0"/>
<circle cx="204.7" cy="475.0" r="1.62" fill="#0000f0"/>
<circle cx="39.9" cy="548.3" r="1.62" fill="#00f000"/>
<circle cx="67.4" cy="546.0" r="1.62" fill="#00f000"/>
<circle cx="94.8" cy="539.4" r="1.62" fill="#00f000"/>
<circle cx="122.3" cy="520.0" r="1.62" fill="#00f000"/>
<circle cx="149.8" cy="497.7" r="1.62" fill="#00f000"/>
<circle cx="177.2" cy="481.8" r="1.62" fill="#00f000"/>
<circle cx="204.7" cy="472.9" r="1.62" fill="#00f000"/>
<circle cx="39.9" cy="548.3" r="1.62" fill="#20a0ff"/>
<circle cx="67.4" cy="546.3" r="1.62" fill="#20a0ff"/>
<circle cx="94.8" cy="540.8" r="1.62" fill="#20a0ff"/>
<circle cx="122.3" cy="524.3" r="1.62" fill="#20a0ff"/>
<circle cx="149.8" cy="494.2" r="1.62" fill="#20a0ff"/>
<circle cx="177.2" cy="479.8" r="1.62" fill="#20a0ff"/>
<circle cx="204.7" cy="475.0" r="1.62" fill="#20a0ff"/>
<circle cx="39.9" cy="548.3" r="1.62" fill="#10809a"/>
<circle cx="67.4" cy="546.5" r="1.62" fill="#10809a"/>
<circle cx="94.8" cy="541.5" r="1.62" fill="#10809a"/>
<circle cx="122.3" cy="527.1" r="1.62" fill="#10809a"/>
<circle cx="149.8" cy="504.0" r="1.62" fill="#10809a"/>
<circle cx="177.2" cy="487.9" r="1.62" fill="#10809a"/>
<circle cx="204.7" cy="476.4" r="1.62" fill="#10809a"/>
<circle cx="39.9" cy="548.3" r="1.62" fill="#10c080"/>
<circle cx="67.4" cy="546.3" r="1.62" fill="#10c080"/>
<circle cx="94.8" cy="540.1" r="1.62" fill="#10c080"/>
<circle cx="122.3" cy="521.6" r="1.62" fill="#10c080"/>
<circle cx="149.8" cy="499.7" r="1.62" fill="#10c080"/>
<circle cx="177.2" cy="480.5" r="1.62" fill="#10c080"/>
<circle cx="204.7" cy="473.6" r="1.62" fill="#10c080"/>
<circle cx="39.9" cy="548.3" r="1.62" fill="#f8107a"/>
<circle cx="67.4" cy="547.0" r="1.62" fill="#f8107a"/>
<circle cx="94.8" cy="543.5" r="1.62" fill="#f8107a"/>
<circle cx="122.3" cy="529.8" r="1.62" fill="#f8107a"/>
<circle cx="149.8" cy="509.0" r="1.62" fill="#f8107a"/>
<circle cx="177.2" cy="487.3" r="1.62" fill="#f8107a"/>
<circle cx="204.7" cy="477.7" r="1.62" fill="#f8107a"/>
<circle cx="39.9" cy="548.3" r="1.62" fill="#d800e0"/>
<circle cx="67.4" cy="547.6" r="1.62" fill="#d800e0"/>
<circle cx="94.8" cy="545.6" r="1.62" fill="#d800e0"/>
<circle cx="122.3" cy="537.4" r="1.62" fill="#d800e0"/>
<circle cx="149.8" cy="522.8" r="1.62" fill="#d800e0"/>
<circle cx="177.2" cy="504.6" r="1.62" fill="#d800e0"/>
<circle cx="204.7" cy="486.6" r="1.62" fill="#d800e0"/>
<circle cx="39.9" cy="548.3" r="1.62" fill="#ffb000"/>
<circle cx="67.4" cy="548.3" r="1.62" fill="#ffb000"/>
<circle cx="94.8" cy="548.2" r="1.62" fill="#ffb000"/>
<circle cx="122.3" cy="548.1" r="1.62" fill="#ffb000"/>
<circle cx="149.8" cy="547.9" r="1.62" fill="#ffb000"/>
<circle cx="177.2" cy="547.6" r="1.62" fill="#ffb000"/>
<circle cx="204.7" cy="543.5" r="1.62" fill="#ffb000"/>
<circle cx="39.9" cy="548.3" r="1.62" fill="#ff8080"/>
<circle cx="67.4" cy="546.3" r="1.62" fill="#ff8080"/>
<circle cx="94.8" cy="540.8" r="1.62" fill="#ff8080"/>
<circle cx="122.3" cy="525.7" r="1.62" fill="#ff8080"/>
<circle cx="149.8" cy="501.0" r="1.62" fill="#ff8080"/>
<circle cx="177.2" cy="486.2" r="1.62" fill="#ff8080"/>
<circle cx="204.7" cy="475.7" r="1.62" fill="#ff8080"/>
<circle cx="120.0" cy="544.2" r="0.8" fill="#222"/>
<circle cx="122.3" cy="544.2" r="0.8" fill="#222"/>
<circle cx="124.6" cy="544.2" r="0.8" fill="#222"/>
<circle cx="147.5" cy="543.5" r="0.8" fill="#222"/>
<circle cx="149.8" cy="543.5" r="0.8" fill="#222"/>
<circle cx="152.1" cy="543.5" r="0.8" fill="#222"/>
<circle cx="174.9" cy="543.1" r="0.8" fill="#222"/>
<circle cx="177.2" cy="543.1" r="0.8" fill="#222"/>
<circle cx="179.6" cy="543.1" r="0.8" fill="#222"/>
<circle cx="202.4" cy="534.8" r="0.8" fill="#222"/>
<circle cx="204.7" cy="534.8" r="0.8" fill="#222"/>
<circle cx="207.0" cy="534.8" r="0.8" fill="#222"/>
<circle cx="147.5" cy="519.5" r="0.8" fill="#222"/>
<circle cx="149.8" cy="519.5" r="0.8" fill="#222"/>
<circle cx="152.1" cy="519.5" r="0.8" fill="#222"/>
<circle cx="174.9" cy="501.4" r="0.8" fill="#222"/>
<circle cx="177.2" cy="501.4" r="0.8" fill="#222"/>
<circle cx="179.6" cy="501.4" r="0.8" fill="#222"/>
<circle cx="202.4" cy="483.6" r="0.8" fill="#222"/>
<circle cx="204.7" cy="483.6" r="0.8" fill="#222"/>
<circle cx="207.0" cy="483.6" r="0.8" fill="#222"/>
<line x1="279.3" y1="417.6" x2="279.3" y2="555.3" stroke="#000" stroke-width="1.5"/>
<line x1="278.6" y1="554.6" x2="453.3" y2="554.6" stroke="#000" stroke-width="1.5"/>
<line x1="276.1" y1="554.6" x2="279.3" y2="554.6" stroke="#000" stroke-width="1.2"/>
<text x="275.40" y="557.30" font-size="7.5" font-weight="bold" text-anchor="end" fill="#222" stroke="#222" stroke-width="0.22" >0.0</text>
<line x1="276.1" y1="527.3" x2="279.3" y2="527.3" stroke="#000" stroke-width="1.2"/>
<text x="275.40" y="530.02" font-size="7.5" font-weight="bold" text-anchor="end" fill="#222" stroke="#222" stroke-width="0.22" >0.2</text>
<line x1="276.1" y1="500.0" x2="279.3" y2="500.0" stroke="#000" stroke-width="1.2"/>
<text x="275.40" y="502.74" font-size="7.5" font-weight="bold" text-anchor="end" fill="#222" stroke="#222" stroke-width="0.22" >0.4</text>
<line x1="276.1" y1="472.8" x2="279.3" y2="472.8" stroke="#000" stroke-width="1.2"/>
<text x="275.40" y="475.46" font-size="7.5" font-weight="bold" text-anchor="end" fill="#222" stroke="#222" stroke-width="0.22" >0.6</text>
<line x1="276.1" y1="445.5" x2="279.3" y2="445.5" stroke="#000" stroke-width="1.2"/>
<text x="275.40" y="448.18" font-size="7.5" font-weight="bold" text-anchor="end" fill="#222" stroke="#222" stroke-width="0.22" >0.8</text>
<line x1="276.1" y1="418.2" x2="279.3" y2="418.2" stroke="#000" stroke-width="1.2"/>
<text x="275.40" y="420.90" font-size="7.5" font-weight="bold" text-anchor="end" fill="#222" stroke="#222" stroke-width="0.22" >1.0</text>
<line x1="279.3" y1="554.6" x2="279.3" y2="557.8" stroke="#000" stroke-width="1.2"/>
<text x="279.30" y="564.30" font-size="7.5" font-weight="bold" text-anchor="middle" fill="#222" stroke="#222" stroke-width="0.22" >0</text>
<line x1="306.8" y1="554.6" x2="306.8" y2="557.8" stroke="#000" stroke-width="1.2"/>
<text x="306.83" y="564.30" font-size="7.5" font-weight="bold" text-anchor="middle" fill="#222" stroke="#222" stroke-width="0.22" >1</text>
<line x1="334.4" y1="554.6" x2="334.4" y2="557.8" stroke="#000" stroke-width="1.2"/>
<text x="334.36" y="564.30" font-size="7.5" font-weight="bold" text-anchor="middle" fill="#222" stroke="#222" stroke-width="0.22" >2</text>
<line x1="361.9" y1="554.6" x2="361.9" y2="557.8" stroke="#000" stroke-width="1.2"/>
<text x="361.89" y="564.30" font-size="7.5" font-weight="bold" text-anchor="middle" fill="#222" stroke="#222" stroke-width="0.22" >3</text>
<line x1="389.4" y1="554.6" x2="389.4" y2="557.8" stroke="#000" stroke-width="1.2"/>
<text x="389.42" y="564.30" font-size="7.5" font-weight="bold" text-anchor="middle" fill="#222" stroke="#222" stroke-width="0.22" >4</text>
<line x1="417.0" y1="554.6" x2="417.0" y2="557.8" stroke="#000" stroke-width="1.2"/>
<text x="416.95" y="564.30" font-size="7.5" font-weight="bold" text-anchor="middle" fill="#222" stroke="#222" stroke-width="0.22" >5</text>
<line x1="444.5" y1="554.6" x2="444.5" y2="557.8" stroke="#000" stroke-width="1.2"/>
<text x="444.48" y="564.30" font-size="7.5" font-weight="bold" text-anchor="middle" fill="#222" stroke="#222" stroke-width="0.22" >6</text>
<text x="366.29" y="576.20" font-size="8.2" font-weight="bold" text-anchor="middle" fill="#111" stroke="#111" stroke-width="0.22" letter-spacing="0.1">Time (h)</text>
<text x="365.79" y="419.40" font-size="9.3" font-weight="bold" text-anchor="middle" fill="#111" stroke="#111" stroke-width="0.22" letter-spacing="0.05">CCARM3837</text>
<text x="0" y="0" font-size="10.8" font-weight="bold" fill="#111" stroke="#111" stroke-width="0.2" text-anchor="middle" transform="translate(258.3 484.9) rotate(-90)">OD<tspan font-size="6.9" dy="2.1">600</tspan></text>
<line x1="334.4" y1="544.4" x2="334.4" y2="547.1" stroke="#8a8a8a" stroke-width="0.8"/>
<line x1="333.6" y1="544.4" x2="335.2" y2="544.4" stroke="#8a8a8a" stroke-width="0.8"/>
<line x1="333.6" y1="547.1" x2="335.2" y2="547.1" stroke="#8a8a8a" stroke-width="0.8"/>
<line x1="361.9" y1="537.8" x2="361.9" y2="543.3" stroke="#8a8a8a" stroke-width="0.8"/>
<line x1="361.1" y1="537.8" x2="362.7" y2="537.8" stroke="#8a8a8a" stroke-width="0.8"/>
<line x1="361.1" y1="543.3" x2="362.7" y2="543.3" stroke="#8a8a8a" stroke-width="0.8"/>
<line x1="389.4" y1="520.0" x2="389.4" y2="528.1" stroke="#8a8a8a" stroke-width="0.8"/>
<line x1="388.6" y1="520.0" x2="390.2" y2="520.0" stroke="#8a8a8a" stroke-width="0.8"/>
<line x1="388.6" y1="528.1" x2="390.2" y2="528.1" stroke="#8a8a8a" stroke-width="0.8"/>
<line x1="417.0" y1="504.4" x2="417.0" y2="520.8" stroke="#8a8a8a" stroke-width="0.8"/>
<line x1="416.2" y1="504.4" x2="417.8" y2="504.4" stroke="#8a8a8a" stroke-width="0.8"/>
<line x1="416.2" y1="520.8" x2="417.8" y2="520.8" stroke="#8a8a8a" stroke-width="0.8"/>
<line x1="444.5" y1="490.8" x2="444.5" y2="504.4" stroke="#8a8a8a" stroke-width="0.8"/>
<line x1="443.7" y1="490.8" x2="445.3" y2="490.8" stroke="#8a8a8a" stroke-width="0.8"/>
<line x1="443.7" y1="504.4" x2="445.3" y2="504.4" stroke="#8a8a8a" stroke-width="0.8"/>
<line x1="361.9" y1="544.4" x2="361.9" y2="549.8" stroke="#fa57a1" stroke-width="0.8"/>
<line x1="361.1" y1="544.4" x2="362.7" y2="544.4" stroke="#fa57a1" stroke-width="0.8"/>
<line x1="361.1" y1="549.8" x2="362.7" y2="549.8" stroke="#fa57a1" stroke-width="0.8"/>
<line x1="389.4" y1="535.9" x2="389.4" y2="549.6" stroke="#fa57a1" stroke-width="0.8"/>
<line x1="388.6" y1="535.9" x2="390.2" y2="535.9" stroke="#fa57a1" stroke-width="0.8"/>
<line x1="388.6" y1="549.6" x2="390.2" y2="549.6" stroke="#fa57a1" stroke-width="0.8"/>
<line x1="417.0" y1="531.8" x2="417.0" y2="545.5" stroke="#fa57a1" stroke-width="0.8"/>
<line x1="416.2" y1="531.8" x2="417.8" y2="531.8" stroke="#fa57a1" stroke-width="0.8"/>
<line x1="416.2" y1="545.5" x2="417.8" y2="545.5" stroke="#fa57a1" stroke-width="0.8"/>
<line x1="444.5" y1="523.4" x2="444.5" y2="534.3" stroke="#fa57a1" stroke-width="0.8"/>
<line x1="443.7" y1="523.4" x2="445.3" y2="523.4" stroke="#fa57a1" stroke-width="0.8"/>
<line x1="443.7" y1="534.3" x2="445.3" y2="534.3" stroke="#fa57a1" stroke-width="0.8"/>
<line x1="389.4" y1="541.6" x2="389.4" y2="549.8" stroke="#e34ce9" stroke-width="0.8"/>
<line x1="388.6" y1="541.6" x2="390.2" y2="541.6" stroke="#e34ce9" stroke-width="0.8"/>
<line x1="388.6" y1="549.8" x2="390.2" y2="549.8" stroke="#e34ce9" stroke-width="0.8"/>
<line x1="417.0" y1="535.1" x2="417.0" y2="546.0" stroke="#e34ce9" stroke-width="0.8"/>
<line x1="416.2" y1="535.1" x2="417.8" y2="535.1" stroke="#e34ce9" stroke-width="0.8"/>
<line x1="416.2" y1="546.0" x2="417.8" y2="546.0" stroke="#e34ce9" stroke-width="0.8"/>
<line x1="444.5" y1="526.5" x2="444.5" y2="540.1" stroke="#e34ce9" stroke-width="0.8"/>
<line x1="443.7" y1="526.5" x2="445.3" y2="526.5" stroke="#e34ce9" stroke-width="0.8"/>
<line x1="443.7" y1="540.1" x2="445.3" y2="540.1" stroke="#e34ce9" stroke-width="0.8"/>
<line x1="361.9" y1="539.6" x2="361.9" y2="545.1" stroke="#4cf44c" stroke-width="0.8"/>
<line x1="361.1" y1="539.6" x2="362.7" y2="539.6" stroke="#4cf44c" stroke-width="0.8"/>
<line x1="361.1" y1="545.1" x2="362.7" y2="545.1" stroke="#4cf44c" stroke-width="0.8"/>
<line x1="389.4" y1="528.3" x2="389.4" y2="536.5" stroke="#4cf44c" stroke-width="0.8"/>
<line x1="388.6" y1="528.3" x2="390.2" y2="528.3" stroke="#4cf44c" stroke-width="0.8"/>
<line x1="388.6" y1="536.5" x2="390.2" y2="536.5" stroke="#4cf44c" stroke-width="0.8"/>
<line x1="417.0" y1="514.1" x2="417.0" y2="525.0" stroke="#4cf44c" stroke-width="0.8"/>
<line x1="416.2" y1="514.1" x2="417.8" y2="514.1" stroke="#4cf44c" stroke-width="0.8"/>
<line x1="416.2" y1="525.0" x2="417.8" y2="525.0" stroke="#4cf44c" stroke-width="0.8"/>
<line x1="444.5" y1="499.6" x2="444.5" y2="510.5" stroke="#4cf44c" stroke-width="0.8"/>
<line x1="443.7" y1="499.6" x2="445.3" y2="499.6" stroke="#4cf44c" stroke-width="0.8"/>
<line x1="443.7" y1="510.5" x2="445.3" y2="510.5" stroke="#4cf44c" stroke-width="0.8"/>
<polyline points="279.3,548.5 306.8,548.1 334.4,547.8 361.9,545.1 389.4,539.6 417.0,530.3 444.5,520.9" fill="none" stroke="#ffb2b2" stroke-width="0.8"/>
<polyline points="279.3,548.5 306.8,548.3 334.4,548.2 361.9,547.8 389.4,545.7 417.0,540.6 444.5,533.3" fill="none" stroke="#e766ec" stroke-width="0.8"/>
<polyline points="279.3,548.5 306.8,548.2 334.4,548.1 361.9,547.1 389.4,542.7 417.0,538.6 444.5,528.8" fill="none" stroke="#fa6faf" stroke-width="0.8"/>
<polyline points="279.3,548.5 306.8,548.1 334.4,547.8 361.9,544.4 389.4,536.9 417.0,526.0 444.5,513.7" fill="none" stroke="#6fb2c2" stroke-width="0.8"/>
<polyline points="279.3,548.5 306.8,548.1 334.4,547.8 361.9,545.1 389.4,538.2 417.0,527.3 444.5,519.1" fill="none" stroke="#79c6ff" stroke-width="0.8"/>
<polyline points="279.3,548.5 306.8,547.8 334.4,547.5 361.9,544.4 389.4,538.2 417.0,529.4 444.5,521.9" fill="none" stroke="#6fd9b2" stroke-width="0.8"/>
<polyline points="279.3,548.5 306.8,547.8 334.4,547.5 361.9,543.7 389.4,535.9 417.0,524.0 444.5,510.3" fill="none" stroke="#6666f6" stroke-width="0.8"/>
<polyline points="279.3,548.5 306.8,547.8 334.4,547.1 361.9,542.3 389.4,532.4 417.0,519.5 444.5,505.1" fill="none" stroke="#66f666" stroke-width="0.8"/>
<polyline points="279.3,548.5 306.8,548.5 334.4,548.5 361.9,548.5 389.4,548.5 417.0,548.3 444.5,548.1" fill="none" stroke="#ffcf66" stroke-width="0.8"/>
<polyline points="279.3,548.5 306.8,547.8 334.4,545.7 361.9,540.6 389.4,524.0 417.0,512.6 444.5,497.6" fill="none" stroke="#a0a0a0" stroke-width="0.8"/>
<polyline points="279.3,548.5 306.8,547.1 334.4,543.0 361.9,532.8 389.4,517.2 417.0,496.5 444.5,483.9" fill="none" stroke="#585858" stroke-width="0.8"/>
<circle cx="279.3" cy="548.5" r="1.62" fill="#000000"/>
<circle cx="306.8" cy="547.1" r="1.62" fill="#000000"/>
<circle cx="334.4" cy="543.0" r="1.62" fill="#000000"/>
<circle cx="361.9" cy="532.8" r="1.62" fill="#000000"/>
<circle cx="389.4" cy="517.2" r="1.62" fill="#000000"/>
<circle cx="417.0" cy="496.5" r="1.62" fill="#000000"/>
<circle cx="444.5" cy="483.9" r="1.62" fill="#000000"/>
<circle cx="279.3" cy="548.5" r="1.62" fill="#555555"/>
<circle cx="306.8" cy="547.8" r="1.62" fill="#555555"/>
<circle cx="334.4" cy="545.7" r="1.62" fill="#555555"/>
<circle cx="361.9" cy="540.6" r="1.62" fill="#555555"/>
<circle cx="389.4" cy="524.0" r="1.62" fill="#555555"/>
<circle cx="417.0" cy="512.6" r="1.62" fill="#555555"/>
<circle cx="444.5" cy="497.6" r="1.62" fill="#555555"/>
<circle cx="279.3" cy="548.5" r="1.62" fill="#0000f0"/>
<circle cx="306.8" cy="547.8" r="1.62" fill="#0000f0"/>
<circle cx="334.4" cy="547.5" r="1.62" fill="#0000f0"/>
<circle cx="361.9" cy="543.7" r="1.62" fill="#0000f0"/>
<circle cx="389.4" cy="535.9" r="1.62" fill="#0000f0"/>
<circle cx="417.0" cy="524.0" r="1.62" fill="#0000f0"/>
<circle cx="444.5" cy="510.3" r="1.62" fill="#0000f0"/>
<circle cx="279.3" cy="548.5" r="1.62" fill="#00f000"/>
<circle cx="306.8" cy="547.8" r="1.62" fill="#00f000"/>
<circle cx="334.4" cy="547.1" r="1.62" fill="#00f000"/>
<circle cx="361.9" cy="542.3" r="1.62" fill="#00f000"/>
<circle cx="389.4" cy="532.4" r="1.62" fill="#00f000"/>
<circle cx="417.0" cy="519.5" r="1.62" fill="#00f000"/>
<circle cx="444.5" cy="505.1" r="1.62" fill="#00f000"/>
<circle cx="279.3" cy="548.5" r="1.62" fill="#20a0ff"/>
<circle cx="306.8" cy="548.1" r="1.62" fill="#20a0ff"/>
<circle cx="334.4" cy="547.8" r="1.62" fill="#20a0ff"/>
<circle cx="361.9" cy="545.1" r="1.62" fill="#20a0ff"/>
<circle cx="389.4" cy="538.2" r="1.62" fill="#20a0ff"/>
<circle cx="417.0" cy="527.3" r="1.62" fill="#20a0ff"/>
<circle cx="444.5" cy="519.1" r="1.62" fill="#20a0ff"/>
<circle cx="279.3" cy="548.5" r="1.62" fill="#10809a"/>
<circle cx="306.8" cy="548.1" r="1.62" fill="#10809a"/>
<circle cx="334.4" cy="547.8" r="1.62" fill="#10809a"/>
<circle cx="361.9" cy="544.4" r="1.62" fill="#10809a"/>
<circle cx="389.4" cy="536.9" r="1.62" fill="#10809a"/>
<circle cx="417.0" cy="526.0" r="1.62" fill="#10809a"/>
<circle cx="444.5" cy="513.7" r="1.62" fill="#10809a"/>
<circle cx="279.3" cy="548.5" r="1.62" fill="#10c080"/>
<circle cx="306.8" cy="547.8" r="1.62" fill="#10c080"/>
<circle cx="334.4" cy="547.5" r="1.62" fill="#10c080"/>
<circle cx="361.9" cy="544.4" r="1.62" fill="#10c080"/>
<circle cx="389.4" cy="538.2" r="1.62" fill="#10c080"/>
<circle cx="417.0" cy="529.4" r="1.62" fill="#10c080"/>
<circle cx="444.5" cy="521.9" r="1.62" fill="#10c080"/>
<circle cx="279.3" cy="548.5" r="1.62" fill="#f8107a"/>
<circle cx="306.8" cy="548.2" r="1.62" fill="#f8107a"/>
<circle cx="334.4" cy="548.1" r="1.62" fill="#f8107a"/>
<circle cx="361.9" cy="547.1" r="1.62" fill="#f8107a"/>
<circle cx="389.4" cy="542.7" r="1.62" fill="#f8107a"/>
<circle cx="417.0" cy="538.6" r="1.62" fill="#f8107a"/>
<circle cx="444.5" cy="528.8" r="1.62" fill="#f8107a"/>
<circle cx="279.3" cy="548.5" r="1.62" fill="#d800e0"/>
<circle cx="306.8" cy="548.3" r="1.62" fill="#d800e0"/>
<circle cx="334.4" cy="548.2" r="1.62" fill="#d800e0"/>
<circle cx="361.9" cy="547.8" r="1.62" fill="#d800e0"/>
<circle cx="389.4" cy="545.7" r="1.62" fill="#d800e0"/>
<circle cx="417.0" cy="540.6" r="1.62" fill="#d800e0"/>
<circle cx="444.5" cy="533.3" r="1.62" fill="#d800e0"/>
<circle cx="279.3" cy="548.5" r="1.62" fill="#ffb000"/>
<circle cx="306.8" cy="548.5" r="1.62" fill="#ffb000"/>
<circle cx="334.4" cy="548.5" r="1.62" fill="#ffb000"/>
<circle cx="361.9" cy="548.5" r="1.62" fill="#ffb000"/>
<circle cx="389.4" cy="548.5" r="1.62" fill="#ffb000"/>
<circle cx="417.0" cy="548.3" r="1.62" fill="#ffb000"/>
<circle cx="444.5" cy="548.1" r="1.62" fill="#ffb000"/>
<circle cx="279.3" cy="548.5" r="1.62" fill="#ff8080"/>
<circle cx="306.8" cy="548.1" r="1.62" fill="#ff8080"/>
<circle cx="334.4" cy="547.8" r="1.62" fill="#ff8080"/>
<circle cx="361.9" cy="545.1" r="1.62" fill="#ff8080"/>
<circle cx="389.4" cy="539.6" r="1.62" fill="#ff8080"/>
<circle cx="417.0" cy="530.3" r="1.62" fill="#ff8080"/>
<circle cx="444.5" cy="520.9" r="1.62" fill="#ff8080"/>
<circle cx="442.2" cy="524.7" r="0.8" fill="#222"/>
<circle cx="444.5" cy="524.7" r="0.8" fill="#222"/>
<circle cx="446.8" cy="524.7" r="0.8" fill="#222"/>
<circle cx="442.2" cy="530.9" r="0.8" fill="#222"/>
<circle cx="444.5" cy="530.9" r="0.8" fill="#222"/>
<circle cx="446.8" cy="530.9" r="0.8" fill="#222"/>
<circle cx="415.8" cy="534.5" r="0.8" fill="#222"/>
<circle cx="418.2" cy="534.5" r="0.8" fill="#222"/>
<circle cx="442.2" cy="544.6" r="0.8" fill="#222"/>
<circle cx="444.5" cy="544.6" r="0.8" fill="#222"/>
<circle cx="446.8" cy="544.6" r="0.8" fill="#222"/>
<text x="5.20" y="225.00" font-size="11.5" font-weight="bold" text-anchor="start" fill="#000" stroke="#000" stroke-width="0.22" >D</text>
<line x1="475.5" y1="325.3" x2="484.5" y2="325.3" stroke="#a0a0a0" stroke-width="0.9"/>
<ellipse cx="480.0" cy="325.3" rx="2.5" ry="1.95" fill="#555555"/>
<text x="490.20" y="328.90" font-size="8.8" text-anchor="start" fill="#222" stroke="#222" stroke-width="0.22" letter-spacing="0.3">ALS2-dA-L38</text>
<line x1="475.5" y1="337.6" x2="484.5" y2="337.6" stroke="#e766ec" stroke-width="0.9"/>
<ellipse cx="480.0" cy="337.6" rx="2.5" ry="1.95" fill="#d800e0"/>
<text x="490.20" y="341.17" font-size="8.8" text-anchor="start" fill="#222" stroke="#222" stroke-width="0.22" letter-spacing="0.3">ALS2-dA-L35</text>
<line x1="475.5" y1="349.8" x2="484.5" y2="349.8" stroke="#6fb2c2" stroke-width="0.9"/>
<ellipse cx="480.0" cy="349.8" rx="2.5" ry="1.95" fill="#10809a"/>
<text x="490.20" y="353.44" font-size="8.8" text-anchor="start" fill="#222" stroke="#222" stroke-width="0.22" letter-spacing="0.3">ALS2-dA-L34</text>
<line x1="475.5" y1="362.1" x2="484.5" y2="362.1" stroke="#fa6faf" stroke-width="0.9"/>
<ellipse cx="480.0" cy="362.1" rx="2.5" ry="1.95" fill="#f8107a"/>
<text x="490.20" y="365.71" font-size="8.8" text-anchor="start" fill="#222" stroke="#222" stroke-width="0.22" letter-spacing="0.3">ALS2-dA-L31</text>
<line x1="475.5" y1="374.4" x2="484.5" y2="374.4" stroke="#6fd9b2" stroke-width="0.9"/>
<ellipse cx="480.0" cy="374.4" rx="2.5" ry="1.95" fill="#10c080"/>
<text x="490.20" y="377.98" font-size="8.8" text-anchor="start" fill="#222" stroke="#222" stroke-width="0.22" letter-spacing="0.3">ALS2-dA-L28</text>
<line x1="475.5" y1="386.6" x2="484.5" y2="386.6" stroke="#6666f6" stroke-width="0.9"/>
<ellipse cx="480.0" cy="386.6" rx="2.5" ry="1.95" fill="#0000f0"/>
<text x="490.20" y="390.25" font-size="8.8" text-anchor="start" fill="#222" stroke="#222" stroke-width="0.22" letter-spacing="0.3">ALS2-dA-L27</text>
<line x1="475.5" y1="398.9" x2="484.5" y2="398.9" stroke="#79c6ff" stroke-width="0.9"/>
<ellipse cx="480.0" cy="398.9" rx="2.5" ry="1.95" fill="#20a0ff"/>
<text x="490.20" y="402.52" font-size="8.8" text-anchor="start" fill="#222" stroke="#222" stroke-width="0.22" letter-spacing="0.3">ALS2-dA-L26</text>
<line x1="475.5" y1="411.2" x2="484.5" y2="411.2" stroke="#ffcf66" stroke-width="0.9"/>
<ellipse cx="480.0" cy="411.2" rx="2.5" ry="1.95" fill="#ffb000"/>
<text x="490.20" y="414.79" font-size="8.8" text-anchor="start" fill="#222" stroke="#222" stroke-width="0.22" letter-spacing="0.3">ALS2-dA-L25</text>
<line x1="475.5" y1="423.5" x2="484.5" y2="423.5" stroke="#66f666" stroke-width="0.9"/>
<ellipse cx="480.0" cy="423.5" rx="2.5" ry="1.95" fill="#00f000"/>
<text x="490.20" y="427.06" font-size="8.8" text-anchor="start" fill="#222" stroke="#222" stroke-width="0.22" letter-spacing="0.3">ALS2-dA-L24</text>
<line x1="475.5" y1="435.7" x2="484.5" y2="435.7" stroke="#ffb2b2" stroke-width="0.9"/>
<ellipse cx="480.0" cy="435.7" rx="2.5" ry="1.95" fill="#ff8080"/>
<text x="490.20" y="439.33" font-size="8.8" text-anchor="start" fill="#222" stroke="#222" stroke-width="0.22" letter-spacing="0.3">ALS2-dA-L21</text>
<line x1="475.5" y1="448.0" x2="484.5" y2="448.0" stroke="#585858" stroke-width="0.9"/>
<ellipse cx="480.0" cy="448.0" rx="2.5" ry="1.95" fill="#000000"/>
<text x="490.20" y="451.60" font-size="8.8" text-anchor="start" fill="#222" stroke="#222" stroke-width="0.22" letter-spacing="0.3">DNA Neg</text>
</svg></body></html>
